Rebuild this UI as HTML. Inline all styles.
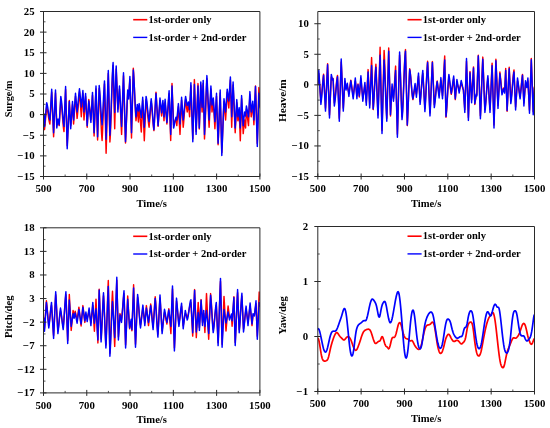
<!DOCTYPE html>
<html><head><meta charset="utf-8"><title>Motion responses</title>
<style>
html,body{margin:0;padding:0;background:#fff;}
body{width:550px;height:428px;overflow:hidden;}
svg{display:block}
text{font-family:"Liberation Serif",serif;font-weight:bold;fill:#000;}
.t{font-size:10.8px}
.l{font-size:10.6px}
.g{font-size:10.5px}
</style></head><body>
<svg width="550" height="428" viewBox="0 0 550 428">
<rect width="550" height="428" fill="#fff"/>
<clipPath id="c1"><rect x="43.5" y="11.5" width="216.39999999999998" height="165.0"/></clipPath>
<g clip-path="url(#c1)" fill="none" stroke-linejoin="round" stroke-linecap="round">
<path d="M43.90,114.00 L44.20,121.80 L44.50,129.60 L44.77,127.09 L45.05,124.32 L45.33,121.36 L45.60,118.30 L45.88,115.24 L46.15,112.28 L46.43,109.51 L46.70,107.00 L46.97,107.79 L47.23,108.88 L47.50,110.26 L47.77,111.87 L48.03,113.64 L48.30,115.50 L48.57,117.36 L48.83,119.13 L49.10,120.74 L49.37,122.12 L49.63,123.21 L49.90,124.00 L50.16,119.46 L50.41,114.91 L50.67,110.37 L50.93,105.83 L51.19,101.29 L51.44,96.74 L51.70,92.20 L51.97,98.40 L52.24,104.77 L52.51,111.24 L52.79,117.76 L53.06,124.23 L53.33,130.60 L53.60,136.80 L53.87,130.71 L54.14,124.46 L54.41,118.10 L54.69,111.70 L54.96,105.34 L55.23,99.09 L55.50,93.00 L55.76,99.40 L56.02,105.80 L56.28,112.20 L56.54,118.60 L56.80,125.00 L57.10,124.15 L57.40,123.31 L57.70,122.46 L58.00,121.61 L58.30,122.61 L58.60,123.60 L58.90,124.60 L59.20,125.60 L59.47,121.23 L59.73,116.87 L60.00,112.50 L60.27,108.13 L60.53,103.77 L60.80,99.40 L61.07,100.88 L61.33,102.96 L61.60,105.56 L61.87,108.60 L62.13,111.95 L62.40,115.45 L62.67,118.95 L62.93,122.30 L63.20,125.34 L63.47,127.94 L63.73,130.02 L64.00,131.50 L64.27,124.50 L64.53,117.50 L64.80,110.50 L65.07,103.50 L65.33,96.50 L65.60,89.50 L65.87,98.88 L66.13,108.27 L66.40,117.65 L66.67,127.03 L66.93,136.42 L67.20,145.80 L67.46,140.61 L67.72,135.04 L67.99,129.17 L68.25,123.15 L68.51,117.13 L68.78,111.26 L69.04,105.69 L69.30,100.50 L69.58,105.56 L69.86,110.62 L70.14,115.68 L70.42,120.74 L70.70,125.80 L70.96,122.76 L71.21,119.71 L71.47,116.67 L71.73,113.63 L71.99,110.59 L72.24,107.54 L72.50,104.50 L72.78,109.38 L73.05,114.25 L73.32,119.12 L73.60,124.00 L73.87,120.13 L74.14,116.17 L74.41,112.13 L74.69,108.07 L74.96,104.03 L75.23,100.07 L75.50,96.20 L75.77,99.90 L76.03,103.60 L76.30,107.30 L76.57,111.00 L76.83,114.70 L77.10,118.40 L77.37,115.95 L77.63,113.14 L77.90,110.03 L78.17,106.73 L78.43,103.37 L78.70,100.07 L78.97,96.96 L79.23,94.15 L79.50,91.70 L79.76,95.29 L80.01,98.87 L80.27,102.46 L80.53,106.04 L80.79,109.63 L81.04,113.21 L81.30,116.80 L81.57,112.92 L81.83,109.03 L82.10,105.15 L82.37,101.27 L82.63,97.38 L82.90,93.50 L83.18,100.12 L83.45,106.75 L83.72,113.38 L84.00,120.00 L84.27,116.08 L84.53,112.17 L84.80,108.25 L85.07,104.33 L85.33,100.42 L85.60,96.50 L85.87,101.62 L86.13,106.73 L86.40,111.85 L86.67,116.97 L86.93,122.08 L87.20,127.20 L87.47,122.58 L87.73,117.97 L88.00,113.35 L88.27,108.73 L88.53,104.12 L88.80,99.50 L89.06,101.78 L89.33,104.23 L89.59,106.80 L89.85,109.45 L90.11,112.10 L90.38,114.67 L90.64,117.12 L90.90,119.40 L91.17,115.40 L91.43,111.40 L91.70,107.40 L91.97,103.40 L92.23,99.40 L92.50,95.40 L92.77,102.17 L93.03,108.93 L93.30,115.70 L93.57,122.47 L93.83,129.23 L94.10,136.00 L94.37,129.46 L94.64,122.75 L94.91,115.93 L95.19,109.07 L95.46,102.25 L95.73,95.54 L96.00,89.00 L96.27,97.50 L96.53,106.00 L96.80,114.50 L97.07,123.00 L97.33,131.50 L97.60,140.00 L97.87,131.42 L98.13,122.83 L98.40,114.25 L98.67,105.67 L98.93,97.08 L99.20,88.50 L99.46,91.61 L99.73,95.61 L99.99,100.39 L100.25,105.78 L100.52,111.55 L100.78,117.45 L101.05,123.22 L101.31,128.61 L101.57,133.39 L101.84,137.39 L102.10,140.50 L102.37,135.31 L102.63,129.35 L102.90,122.77 L103.17,115.77 L103.43,108.63 L103.70,101.63 L103.97,95.05 L104.23,89.09 L104.50,83.90 L104.77,95.47 L105.03,107.03 L105.30,118.60 L105.57,130.17 L105.83,141.73 L106.10,153.30 L106.38,144.44 L106.65,134.67 L106.92,124.22 L107.20,113.40 L107.47,102.58 L107.75,92.13 L108.02,82.36 L108.30,73.50 L108.57,84.92 L108.83,96.33 L109.10,107.75 L109.37,119.17 L109.63,130.58 L109.90,142.00 L110.17,138.47 L110.43,133.52 L110.70,127.31 L110.97,120.07 L111.23,112.10 L111.50,103.75 L111.77,95.40 L112.03,87.43 L112.30,80.19 L112.57,73.98 L112.83,69.03 L113.10,65.50 L113.37,76.05 L113.63,86.60 L113.90,97.15 L114.17,107.70 L114.43,118.25 L114.70,128.80 L114.95,118.83 L115.20,108.87 L115.45,98.90 L115.70,88.93 L115.95,78.97 L116.20,69.00 L116.48,75.67 L116.77,82.33 L117.05,89.00 L117.33,95.67 L117.62,102.33 L117.90,109.00 L118.17,105.67 L118.43,102.33 L118.70,99.00 L118.97,95.67 L119.23,92.33 L119.50,89.00 L119.76,94.20 L120.03,99.79 L120.29,105.66 L120.55,111.70 L120.81,117.74 L121.07,123.61 L121.34,129.20 L121.60,134.40 L121.87,126.23 L122.14,117.86 L122.41,109.34 L122.69,100.76 L122.96,92.24 L123.23,83.87 L123.50,75.70 L123.75,83.64 L124.00,91.97 L124.25,100.58 L124.50,109.35 L124.75,118.12 L125.00,126.73 L125.25,135.06 L125.50,143.00 L125.78,137.45 L126.05,131.33 L126.33,124.78 L126.60,118.00 L126.88,111.22 L127.15,104.67 L127.42,98.55 L127.70,93.00 L128.03,94.00 L128.37,95.00 L128.70,96.00 L129.00,91.85 L129.30,87.70 L129.60,83.55 L129.90,79.40 L130.17,89.17 L130.43,98.93 L130.70,108.70 L130.97,118.47 L131.23,128.23 L131.50,138.00 L131.76,128.03 L132.01,118.06 L132.27,108.09 L132.53,98.11 L132.79,88.14 L133.04,78.17 L133.30,68.20 L133.57,72.03 L133.84,76.74 L134.11,82.20 L134.38,88.21 L134.65,94.50 L134.92,100.79 L135.19,106.80 L135.46,112.26 L135.73,116.97 L136.00,120.80 L136.26,118.11 L136.52,115.43 L136.78,112.74 L137.04,110.06 L137.30,107.37 L137.58,111.03 L137.85,114.69 L138.12,118.34 L138.40,122.00 L138.67,116.87 L138.93,111.73 L139.20,106.60 L139.46,109.51 L139.72,112.63 L139.99,115.92 L140.25,119.30 L140.51,122.68 L140.78,125.97 L141.04,129.09 L141.30,132.00 L141.58,125.64 L141.86,119.28 L142.14,112.92 L142.42,106.56 L142.70,100.20 L142.97,106.97 L143.23,113.73 L143.50,120.50 L143.77,127.27 L144.03,134.03 L144.30,140.80 L144.56,134.89 L144.81,128.97 L145.07,123.06 L145.33,117.14 L145.59,111.23 L145.84,105.31 L146.10,99.40 L146.35,100.83 L146.60,102.70 L146.85,104.97 L147.10,107.55 L147.35,110.37 L147.60,113.30 L147.85,116.23 L148.10,119.05 L148.35,121.63 L148.60,123.90 L148.85,125.77 L149.10,127.20 L149.36,124.29 L149.62,121.17 L149.89,117.88 L150.15,114.50 L150.41,111.12 L150.67,107.83 L150.94,104.71 L151.20,101.80 L151.47,103.90 L151.74,106.48 L152.01,109.47 L152.28,112.75 L152.55,116.20 L152.82,119.65 L153.09,122.93 L153.36,125.92 L153.63,128.50 L153.90,130.60 L154.16,126.20 L154.43,121.48 L154.69,116.51 L154.95,111.40 L155.21,106.29 L155.47,101.32 L155.74,96.60 L156.00,92.20 L156.26,96.10 L156.53,100.28 L156.79,104.68 L157.05,109.20 L157.31,113.72 L157.57,118.12 L157.84,122.30 L158.10,126.20 L158.37,122.69 L158.64,119.10 L158.91,115.44 L159.19,111.76 L159.46,108.10 L159.73,104.51 L160.00,101.00 L160.27,103.50 L160.53,106.00 L160.80,108.50 L161.07,111.00 L161.33,113.50 L161.60,116.00 L161.86,113.48 L162.12,110.96 L162.38,108.44 L162.64,105.92 L162.90,103.40 L163.18,107.75 L163.45,112.10 L163.72,116.45 L164.00,120.80 L164.28,116.17 L164.55,111.55 L164.82,106.92 L165.10,102.30 L165.36,105.40 L165.61,108.50 L165.87,111.60 L166.13,114.70 L166.39,117.80 L166.64,120.90 L166.90,124.00 L167.18,120.65 L167.45,116.95 L167.72,113.00 L168.00,108.90 L168.28,104.80 L168.55,100.85 L168.82,97.15 L169.10,93.80 L169.37,101.58 L169.63,109.37 L169.90,117.15 L170.17,124.93 L170.43,132.72 L170.70,140.50 L170.96,129.10 L171.22,117.70 L171.48,106.30 L171.74,94.90 L172.00,83.50 L172.27,90.42 L172.53,97.33 L172.80,104.25 L173.07,111.17 L173.33,118.08 L173.60,125.00 L173.87,124.40 L174.13,123.71 L174.40,122.95 L174.67,122.14 L174.93,121.32 L175.20,120.51 L175.47,119.75 L175.73,119.06 L176.00,118.46 L176.27,120.84 L176.53,123.22 L176.80,125.60 L177.07,122.43 L177.33,119.27 L177.60,116.10 L177.87,112.93 L178.13,109.77 L178.40,106.60 L178.67,111.23 L178.93,115.87 L179.20,120.50 L179.47,125.13 L179.73,129.77 L180.00,134.40 L180.27,128.70 L180.53,123.00 L180.80,117.30 L181.07,111.60 L181.33,105.90 L181.60,100.20 L181.87,104.70 L182.13,109.20 L182.40,113.70 L182.67,118.20 L182.93,122.70 L183.20,127.20 L183.47,124.65 L183.73,121.72 L184.00,118.49 L184.27,115.05 L184.53,111.55 L184.80,108.11 L185.07,104.88 L185.33,101.95 L185.60,99.40 L185.87,101.50 L186.13,103.60 L186.40,105.70 L186.67,107.80 L186.93,109.90 L187.20,112.00 L187.46,110.32 L187.72,108.65 L187.98,106.97 L188.24,105.30 L188.50,103.62 L188.78,106.92 L189.05,110.21 L189.32,113.50 L189.60,116.80 L189.86,110.60 L190.12,104.40 L190.38,98.20 L190.64,92.00 L190.90,85.80 L191.17,93.17 L191.44,100.74 L191.71,108.43 L191.99,116.17 L192.26,123.86 L192.53,131.43 L192.80,138.80 L193.07,128.93 L193.33,119.07 L193.60,109.20 L193.87,99.33 L194.13,89.47 L194.40,79.60 L194.68,88.23 L194.97,96.87 L195.25,105.50 L195.53,114.13 L195.82,122.77 L196.10,131.40 L196.37,124.75 L196.64,117.93 L196.91,110.99 L197.19,104.01 L197.46,97.07 L197.73,90.25 L198.00,83.60 L198.26,92.66 L198.52,101.72 L198.78,110.78 L199.04,119.84 L199.30,128.90 L199.55,121.58 L199.80,114.27 L200.05,106.95 L200.30,99.63 L200.55,92.32 L200.80,85.00 L201.06,90.40 L201.32,95.80 L201.58,101.20 L201.84,106.60 L202.10,112.00 L202.38,104.85 L202.65,97.70 L202.92,90.55 L203.20,83.40 L203.46,94.50 L203.72,105.60 L203.98,116.70 L204.24,127.80 L204.50,138.90 L204.77,133.37 L205.03,127.02 L205.30,120.01 L205.57,112.55 L205.83,104.95 L206.10,97.49 L206.37,90.48 L206.63,84.13 L206.90,78.60 L207.18,84.00 L207.45,89.94 L207.72,96.31 L208.00,102.90 L208.28,109.49 L208.55,115.86 L208.82,121.80 L209.10,127.20 L209.36,121.74 L209.61,116.29 L209.87,110.83 L210.13,105.37 L210.39,99.91 L210.64,94.46 L210.90,89.00 L211.18,94.75 L211.45,100.50 L211.72,106.25 L212.00,112.00 L212.26,109.80 L212.52,107.60 L212.78,105.40 L213.04,103.20 L213.30,101.00 L213.57,105.63 L213.83,110.27 L214.10,114.90 L214.37,119.53 L214.63,124.17 L214.90,128.80 L215.17,123.37 L215.43,117.93 L215.70,112.50 L215.97,107.07 L216.23,101.63 L216.50,96.20 L216.77,104.30 L217.03,112.40 L217.30,120.50 L217.57,128.60 L217.83,136.70 L218.10,144.80 L218.36,138.87 L218.62,132.49 L218.89,125.79 L219.15,118.90 L219.41,112.01 L219.67,105.31 L219.94,98.93 L220.20,93.00 L220.47,102.92 L220.73,112.83 L221.00,122.75 L221.27,132.67 L221.53,142.58 L221.80,152.50 L222.08,146.87 L222.35,140.67 L222.62,134.03 L222.90,127.15 L223.18,120.27 L223.45,113.63 L223.72,107.43 L224.00,101.80 L224.27,104.83 L224.53,107.87 L224.80,110.90 L225.07,113.93 L225.33,116.97 L225.60,120.00 L225.87,115.37 L226.13,110.73 L226.40,106.10 L226.67,101.47 L226.93,96.83 L227.20,92.20 L227.47,94.83 L227.73,97.47 L228.00,100.10 L228.27,102.73 L228.53,105.37 L228.80,108.00 L229.07,103.32 L229.33,98.63 L229.60,93.95 L229.87,89.27 L230.13,84.58 L230.40,79.90 L230.66,89.36 L230.92,98.82 L231.18,108.28 L231.44,117.74 L231.70,127.20 L231.98,118.76 L232.26,110.32 L232.54,101.88 L232.82,93.44 L233.10,85.00 L233.36,90.48 L233.62,96.36 L233.89,102.54 L234.15,108.90 L234.41,115.26 L234.67,121.44 L234.94,127.32 L235.20,132.80 L235.47,127.77 L235.73,122.73 L236.00,117.70 L236.27,112.67 L236.53,107.63 L236.80,102.60 L237.08,107.15 L237.35,111.70 L237.62,116.25 L237.90,120.80 L238.16,118.76 L238.42,116.72 L238.68,114.68 L238.94,112.64 L239.20,110.60 L239.47,118.15 L239.75,125.70 L240.03,133.25 L240.30,140.80 L240.56,132.36 L240.82,123.92 L241.08,115.48 L241.34,107.04 L241.60,98.60 L241.87,104.43 L242.13,110.27 L242.40,116.10 L242.67,121.93 L242.93,127.77 L243.20,133.60 L243.48,130.88 L243.76,128.16 L244.04,125.44 L244.32,122.72 L244.60,120.00 L244.85,122.00 L245.10,124.00 L245.35,126.00 L245.60,128.00 L245.87,121.67 L246.13,115.33 L246.40,109.00 L246.66,110.90 L246.93,112.94 L247.19,115.09 L247.45,117.30 L247.71,119.51 L247.97,121.66 L248.24,123.70 L248.50,125.60 L248.78,119.40 L249.06,113.20 L249.34,107.00 L249.62,100.80 L249.90,94.60 L250.16,99.04 L250.42,103.48 L250.68,107.92 L250.94,112.36 L251.20,116.80 L251.47,114.70 L251.73,112.60 L252.00,110.50 L252.27,108.40 L252.53,106.30 L252.80,104.20 L253.08,109.35 L253.35,114.50 L253.62,119.65 L253.90,124.80 L254.17,118.33 L254.43,111.87 L254.70,105.40 L254.97,98.93 L255.23,92.47 L255.50,86.00 L255.76,94.20 L256.01,102.40 L256.27,110.60 L256.53,118.80 L256.79,127.00 L257.04,135.20 L257.30,143.40 L257.57,134.10 L257.83,124.80 L258.10,115.50 L258.37,106.20 L258.63,96.90 L258.90,87.60 L259.16,91.68 L259.42,95.76 L259.68,99.84 L259.94,103.92 L260.20,108.00" stroke="#ff0000" stroke-width="1.45"/>
<path d="M43.90,114.00 L44.20,120.20 L44.50,126.40 L44.77,123.78 L45.05,120.89 L45.33,117.80 L45.60,114.60 L45.88,111.40 L46.15,108.31 L46.43,105.42 L46.70,102.80 L46.97,103.59 L47.23,104.71 L47.50,106.10 L47.77,107.73 L48.03,109.52 L48.30,111.40 L48.57,113.28 L48.83,115.07 L49.10,116.70 L49.37,118.09 L49.63,119.21 L49.90,120.00 L50.16,115.60 L50.41,111.20 L50.67,106.80 L50.93,102.40 L51.19,98.00 L51.44,93.60 L51.70,89.20 L51.97,95.27 L52.24,101.49 L52.51,107.82 L52.79,114.18 L53.06,120.51 L53.33,126.73 L53.60,132.80 L53.87,126.85 L54.14,120.74 L54.41,114.53 L54.69,108.27 L54.96,102.06 L55.23,95.95 L55.50,90.00 L55.76,97.60 L56.02,105.20 L56.28,112.80 L56.54,120.40 L56.80,128.00 L57.10,125.75 L57.40,123.50 L57.70,121.25 L58.00,119.00 L58.30,120.45 L58.60,121.90 L58.90,123.35 L59.20,124.80 L59.47,120.07 L59.73,115.33 L60.00,110.60 L60.27,105.87 L60.53,101.13 L60.80,96.40 L61.07,97.79 L61.33,99.73 L61.60,102.16 L61.87,105.00 L62.13,108.13 L62.40,111.40 L62.67,114.67 L62.93,117.80 L63.20,120.64 L63.47,123.07 L63.73,125.01 L64.00,126.40 L64.27,119.75 L64.53,113.10 L64.80,106.45 L65.07,99.80 L65.33,93.15 L65.60,86.50 L65.87,96.88 L66.13,107.27 L66.40,117.65 L66.67,128.03 L66.93,138.42 L67.20,148.80 L67.46,143.38 L67.72,137.56 L67.99,131.44 L68.25,125.15 L68.51,118.86 L68.78,112.74 L69.04,106.92 L69.30,101.50 L69.58,106.96 L69.86,112.42 L70.14,117.88 L70.42,123.34 L70.70,128.80 L70.96,124.90 L71.21,121.00 L71.47,117.10 L71.73,113.20 L71.99,109.30 L72.24,105.40 L72.50,101.50 L72.78,106.12 L73.05,110.75 L73.32,115.38 L73.60,120.00 L73.87,116.27 L74.14,112.45 L74.41,108.56 L74.69,104.64 L74.96,100.75 L75.23,96.93 L75.50,93.20 L75.77,96.33 L76.03,99.47 L76.30,102.60 L76.57,105.73 L76.83,108.87 L77.10,112.00 L77.37,109.86 L77.63,107.41 L77.90,104.70 L78.17,101.82 L78.43,98.88 L78.70,96.00 L78.97,93.29 L79.23,90.84 L79.50,88.70 L79.76,91.31 L80.01,93.93 L80.27,96.54 L80.53,99.16 L80.79,101.77 L81.04,104.39 L81.30,107.00 L81.57,104.25 L81.83,101.50 L82.10,98.75 L82.37,96.00 L82.63,93.25 L82.90,90.50 L83.18,95.88 L83.45,101.25 L83.72,106.62 L84.00,112.00 L84.27,108.92 L84.53,105.83 L84.80,102.75 L85.07,99.67 L85.33,96.58 L85.60,93.50 L85.87,98.85 L86.13,104.20 L86.40,109.55 L86.67,114.90 L86.93,120.25 L87.20,125.60 L87.47,121.50 L87.73,117.40 L88.00,113.30 L88.27,109.20 L88.53,105.10 L88.80,101.00 L89.06,103.45 L89.33,106.08 L89.59,108.85 L89.85,111.70 L90.11,114.55 L90.38,117.32 L90.64,119.95 L90.90,122.40 L91.17,117.40 L91.43,112.40 L91.70,107.40 L91.97,102.40 L92.23,97.40 L92.50,92.40 L92.77,99.13 L93.03,105.87 L93.30,112.60 L93.57,119.33 L93.83,126.07 L94.10,132.80 L94.37,126.29 L94.64,119.61 L94.91,112.82 L95.19,105.98 L95.46,99.19 L95.73,92.51 L96.00,86.00 L96.27,94.47 L96.53,102.93 L96.80,111.40 L97.07,119.87 L97.33,128.33 L97.60,136.80 L97.87,128.25 L98.13,119.70 L98.40,111.15 L98.67,102.60 L98.93,94.05 L99.20,85.50 L99.46,87.85 L99.73,90.87 L99.99,94.49 L100.25,98.56 L100.52,102.92 L100.78,107.38 L101.05,111.74 L101.31,115.81 L101.57,119.43 L101.84,122.45 L102.10,124.80 L102.37,120.78 L102.63,116.15 L102.90,111.04 L103.17,105.62 L103.43,100.08 L103.70,94.66 L103.97,89.55 L104.23,84.92 L104.50,80.90 L104.77,90.62 L105.03,100.33 L105.30,110.05 L105.57,119.77 L105.83,129.48 L106.10,139.20 L106.38,131.57 L106.65,123.16 L106.92,114.17 L107.20,104.85 L107.47,95.53 L107.75,86.54 L108.02,78.13 L108.30,70.50 L108.57,81.28 L108.83,92.07 L109.10,102.85 L109.37,113.63 L109.63,124.42 L109.90,135.20 L110.17,131.84 L110.43,127.14 L110.70,121.24 L110.97,114.36 L111.23,106.78 L111.50,98.85 L111.77,90.92 L112.03,83.34 L112.30,76.46 L112.57,70.56 L112.83,65.86 L113.10,62.50 L113.37,70.83 L113.63,79.17 L113.90,87.50 L114.17,95.83 L114.43,104.17 L114.70,112.50 L114.95,104.75 L115.20,97.00 L115.45,89.25 L115.70,81.50 L115.95,73.75 L116.20,66.00 L116.48,73.67 L116.77,81.33 L117.05,89.00 L117.33,96.67 L117.62,104.33 L117.90,112.00 L118.17,107.67 L118.43,103.33 L118.70,99.00 L118.97,94.67 L119.23,90.33 L119.50,86.00 L119.76,90.63 L120.03,95.60 L120.29,100.83 L120.55,106.20 L120.81,111.57 L121.07,116.80 L121.34,121.77 L121.60,126.40 L121.87,118.93 L122.14,111.27 L122.41,103.47 L122.69,95.63 L122.96,87.83 L123.23,80.17 L123.50,72.70 L123.75,80.83 L124.00,89.35 L124.25,98.17 L124.50,107.15 L124.75,116.13 L125.00,124.95 L125.25,133.47 L125.50,141.60 L125.78,135.87 L126.05,129.55 L126.33,122.80 L126.60,115.80 L126.88,108.80 L127.15,102.05 L127.42,95.73 L127.70,90.00 L128.03,93.00 L128.37,96.00 L128.70,99.00 L129.00,93.35 L129.30,87.70 L129.60,82.05 L129.90,76.40 L130.17,85.80 L130.43,95.20 L130.70,104.60 L130.97,114.00 L131.23,123.40 L131.50,132.80 L131.76,123.83 L132.01,114.86 L132.27,105.89 L132.53,96.91 L132.79,87.94 L133.04,78.97 L133.30,70.00 L133.57,73.41 L133.84,77.60 L134.11,82.46 L134.38,87.80 L134.65,93.40 L134.92,99.00 L135.19,104.34 L135.46,109.20 L135.73,113.39 L136.00,116.80 L136.26,114.32 L136.52,111.84 L136.78,109.36 L137.04,106.88 L137.30,104.40 L137.58,106.05 L137.85,107.70 L138.12,109.35 L138.40,111.00 L138.67,108.53 L138.93,106.07 L139.20,103.60 L139.46,105.20 L139.72,106.93 L139.99,108.74 L140.25,110.60 L140.51,112.46 L140.78,114.27 L141.04,116.00 L141.30,117.60 L141.58,113.52 L141.86,109.44 L142.14,105.36 L142.42,101.28 L142.70,97.20 L142.97,102.20 L143.23,107.20 L143.50,112.20 L143.77,117.20 L144.03,122.20 L144.30,127.20 L144.56,122.80 L144.81,118.40 L145.07,114.00 L145.33,109.60 L145.59,105.20 L145.84,100.80 L146.10,96.40 L146.35,97.70 L146.60,99.39 L146.85,101.45 L147.10,103.79 L147.35,106.34 L147.60,109.00 L147.85,111.66 L148.10,114.21 L148.35,116.55 L148.60,118.61 L148.85,120.30 L149.10,121.60 L149.36,118.99 L149.62,116.18 L149.89,113.23 L150.15,110.20 L150.41,107.17 L150.67,104.22 L150.94,101.41 L151.20,98.80 L151.47,101.04 L151.74,103.80 L152.01,107.00 L152.28,110.52 L152.55,114.20 L152.82,117.88 L153.09,121.40 L153.36,124.60 L153.63,127.36 L153.90,129.60 L154.16,125.45 L154.43,121.00 L154.69,116.31 L154.95,111.50 L155.21,106.69 L155.47,102.00 L155.74,97.55 L156.00,93.40 L156.26,97.09 L156.53,101.05 L156.79,105.22 L157.05,109.50 L157.31,113.78 L157.57,117.95 L157.84,121.91 L158.10,125.60 L158.37,121.76 L158.64,117.82 L158.91,113.82 L159.19,109.78 L159.46,105.78 L159.73,101.84 L160.00,98.00 L160.27,100.47 L160.53,102.93 L160.80,105.40 L161.07,107.87 L161.33,110.33 L161.60,112.80 L161.86,110.32 L162.12,107.84 L162.38,105.36 L162.64,102.88 L162.90,100.40 L163.18,104.50 L163.45,108.60 L163.72,112.70 L164.00,116.80 L164.28,112.42 L164.55,108.05 L164.82,103.67 L165.10,99.30 L165.36,102.60 L165.61,105.90 L165.87,109.20 L166.13,112.50 L166.39,115.80 L166.64,119.10 L166.90,122.40 L167.18,118.89 L167.45,115.02 L167.72,110.89 L168.00,106.60 L168.28,102.31 L168.55,98.18 L168.82,94.31 L169.10,90.80 L169.37,98.07 L169.63,105.33 L169.90,112.60 L170.17,119.87 L170.43,127.13 L170.70,134.40 L170.96,124.72 L171.22,115.04 L171.48,105.36 L171.74,95.68 L172.00,86.00 L172.27,93.00 L172.53,100.00 L172.80,107.00 L173.07,114.00 L173.33,121.00 L173.60,128.00 L173.87,127.01 L174.13,125.87 L174.40,124.62 L174.67,123.28 L174.93,121.92 L175.20,120.58 L175.47,119.33 L175.73,118.19 L176.00,117.20 L176.27,118.13 L176.53,119.07 L176.80,120.00 L177.07,117.27 L177.33,114.53 L177.60,111.80 L177.87,109.07 L178.13,106.33 L178.40,103.60 L178.67,107.00 L178.93,110.40 L179.20,113.80 L179.47,117.20 L179.73,120.60 L180.00,124.00 L180.27,119.53 L180.53,115.07 L180.80,110.60 L181.07,106.13 L181.33,101.67 L181.60,97.20 L181.87,101.00 L182.13,104.80 L182.40,108.60 L182.67,112.40 L182.93,116.20 L183.20,120.00 L183.47,117.84 L183.73,115.35 L184.00,112.61 L184.27,109.69 L184.53,106.71 L184.80,103.79 L185.07,101.05 L185.33,98.56 L185.60,96.40 L185.87,97.93 L186.13,99.47 L186.40,101.00 L186.67,102.53 L186.93,104.07 L187.20,105.60 L187.46,104.88 L187.72,104.16 L187.98,103.44 L188.24,102.72 L188.50,102.00 L188.78,103.90 L189.05,105.80 L189.32,107.70 L189.60,109.60 L189.86,104.24 L190.12,98.88 L190.38,93.52 L190.64,88.16 L190.90,82.80 L191.17,91.01 L191.44,99.43 L191.71,107.99 L191.99,116.61 L192.26,125.17 L192.53,133.59 L192.80,141.80 L193.07,132.23 L193.33,122.67 L193.60,113.10 L193.87,103.53 L194.13,93.97 L194.40,84.40 L194.68,92.73 L194.97,101.07 L195.25,109.40 L195.53,117.73 L195.82,126.07 L196.10,134.40 L196.37,127.67 L196.64,120.76 L196.91,113.73 L197.19,106.67 L197.46,99.64 L197.73,92.73 L198.00,86.00 L198.26,94.40 L198.52,102.80 L198.78,111.20 L199.04,119.60 L199.30,128.00 L199.55,120.33 L199.80,112.67 L200.05,105.00 L200.30,97.33 L200.55,89.67 L200.80,82.00 L201.06,87.04 L201.32,92.08 L201.58,97.12 L201.84,102.16 L202.10,107.20 L202.38,100.50 L202.65,93.80 L202.92,87.10 L203.20,80.40 L203.46,91.20 L203.72,102.00 L203.98,112.80 L204.24,123.60 L204.50,134.40 L204.77,129.01 L205.03,122.82 L205.30,115.98 L205.57,108.71 L205.83,101.29 L206.10,94.02 L206.37,87.18 L206.63,80.99 L206.90,75.60 L207.18,80.53 L207.45,85.96 L207.72,91.78 L208.00,97.80 L208.28,103.82 L208.55,109.64 L208.82,115.07 L209.10,120.00 L209.36,115.14 L209.61,110.29 L209.87,105.43 L210.13,100.57 L210.39,95.71 L210.64,90.86 L210.90,86.00 L211.18,90.75 L211.45,95.50 L211.72,100.25 L212.00,105.00 L212.26,103.60 L212.52,102.20 L212.78,100.80 L213.04,99.40 L213.30,98.00 L213.57,101.93 L213.83,105.87 L214.10,109.80 L214.37,113.73 L214.63,117.67 L214.90,121.60 L215.17,116.87 L215.43,112.13 L215.70,107.40 L215.97,102.67 L216.23,97.93 L216.50,93.20 L216.77,101.53 L217.03,109.87 L217.30,118.20 L217.57,126.53 L217.83,134.87 L218.10,143.20 L218.36,137.11 L218.62,130.56 L218.89,123.67 L219.15,116.60 L219.41,109.53 L219.67,102.64 L219.94,96.09 L220.20,90.00 L220.47,100.92 L220.73,111.83 L221.00,122.75 L221.27,133.67 L221.53,144.58 L221.80,155.50 L222.08,149.20 L222.35,142.26 L222.62,134.84 L222.90,127.15 L223.18,119.46 L223.45,112.04 L223.72,105.10 L224.00,98.80 L224.27,101.00 L224.53,103.20 L224.80,105.40 L225.07,107.60 L225.33,109.80 L225.60,112.00 L225.87,108.20 L226.13,104.40 L226.40,100.60 L226.67,96.80 L226.93,93.00 L227.20,89.20 L227.47,91.17 L227.73,93.13 L228.00,95.10 L228.27,97.07 L228.53,99.03 L228.80,101.00 L229.07,96.98 L229.33,92.97 L229.60,88.95 L229.87,84.93 L230.13,80.92 L230.40,76.90 L230.66,84.88 L230.92,92.86 L231.18,100.84 L231.44,108.82 L231.70,116.80 L231.98,109.84 L232.26,102.88 L232.54,95.92 L232.82,88.96 L233.10,82.00 L233.36,87.27 L233.62,92.93 L233.89,98.88 L234.15,105.00 L234.41,111.12 L234.67,117.07 L234.94,122.73 L235.20,128.00 L235.47,123.27 L235.73,118.53 L236.00,113.80 L236.27,109.07 L236.53,104.33 L236.80,99.60 L237.08,103.90 L237.35,108.20 L237.62,112.50 L237.90,116.80 L238.16,114.96 L238.42,113.12 L238.68,111.28 L238.94,109.44 L239.20,107.60 L239.47,112.70 L239.75,117.80 L240.03,122.90 L240.30,128.00 L240.56,121.52 L240.82,115.04 L241.08,108.56 L241.34,102.08 L241.60,95.60 L241.87,100.60 L242.13,105.60 L242.40,110.60 L242.67,115.60 L242.93,120.60 L243.20,125.60 L243.48,122.88 L243.76,120.16 L244.04,117.44 L244.32,114.72 L244.60,112.00 L244.85,113.00 L245.10,114.00 L245.35,115.00 L245.60,116.00 L245.87,112.67 L246.13,109.33 L246.40,106.00 L246.66,107.24 L246.93,108.57 L247.19,109.96 L247.45,111.40 L247.71,112.84 L247.97,114.23 L248.24,115.56 L248.50,116.80 L248.78,111.76 L249.06,106.72 L249.34,101.68 L249.62,96.64 L249.90,91.60 L250.16,95.68 L250.42,99.76 L250.68,103.84 L250.94,107.92 L251.20,112.00 L251.47,110.20 L251.73,108.40 L252.00,106.60 L252.27,104.80 L252.53,103.00 L252.80,101.20 L253.08,105.90 L253.35,110.60 L253.62,115.30 L253.90,120.00 L254.17,114.42 L254.43,108.83 L254.70,103.25 L254.97,97.67 L255.23,92.08 L255.50,86.50 L255.76,95.06 L256.01,103.61 L256.27,112.17 L256.53,120.73 L256.79,129.29 L257.04,137.84 L257.30,146.40 L257.57,137.53 L257.83,128.67 L258.10,119.80 L258.37,110.93 L258.63,102.07 L258.90,93.20 L259.16,95.96 L259.42,98.72 L259.68,101.48 L259.94,104.24 L260.20,107.00" stroke="#0000ff" stroke-width="1.45"/>
</g>
<path d="M43.5,176.5 L43.5,11.5 L259.9,11.5 L259.9,176.5 Z" fill="none" stroke="#2a2a2a" stroke-width="1"/>
<path d="M43.50,173.5 L43.50,179.5" stroke="#2a2a2a" stroke-width="1"/>
<text x="43.50" y="192.40" text-anchor="middle" class="t">500</text>
<path d="M65.14,174.5 L65.14,176.5" stroke="#2a2a2a" stroke-width="0.8"/>
<path d="M86.78,173.5 L86.78,179.5" stroke="#2a2a2a" stroke-width="1"/>
<text x="86.78" y="192.40" text-anchor="middle" class="t">700</text>
<path d="M108.42,174.5 L108.42,176.5" stroke="#2a2a2a" stroke-width="0.8"/>
<path d="M130.06,173.5 L130.06,179.5" stroke="#2a2a2a" stroke-width="1"/>
<text x="130.06" y="192.40" text-anchor="middle" class="t">900</text>
<path d="M151.70,174.5 L151.70,176.5" stroke="#2a2a2a" stroke-width="0.8"/>
<path d="M173.34,173.5 L173.34,179.5" stroke="#2a2a2a" stroke-width="1"/>
<text x="173.34" y="192.40" text-anchor="middle" class="t">1100</text>
<path d="M194.98,174.5 L194.98,176.5" stroke="#2a2a2a" stroke-width="0.8"/>
<path d="M216.62,173.5 L216.62,179.5" stroke="#2a2a2a" stroke-width="1"/>
<text x="216.62" y="192.40" text-anchor="middle" class="t">1300</text>
<path d="M238.26,174.5 L238.26,176.5" stroke="#2a2a2a" stroke-width="0.8"/>
<path d="M259.90,173.5 L259.90,179.5" stroke="#2a2a2a" stroke-width="1"/>
<text x="259.90" y="192.40" text-anchor="middle" class="t">1500</text>
<path d="M40.0,11.50 L46.5,11.50" stroke="#2a2a2a" stroke-width="1"/>
<text x="34.60" y="14.90" text-anchor="end" class="t">25</text>
<path d="M40.0,32.12 L46.5,32.12" stroke="#2a2a2a" stroke-width="1"/>
<text x="34.60" y="35.52" text-anchor="end" class="t">20</text>
<path d="M40.0,52.75 L46.5,52.75" stroke="#2a2a2a" stroke-width="1"/>
<text x="34.60" y="56.15" text-anchor="end" class="t">15</text>
<path d="M40.0,73.38 L46.5,73.38" stroke="#2a2a2a" stroke-width="1"/>
<text x="34.60" y="76.78" text-anchor="end" class="t">10</text>
<path d="M40.0,94.00 L46.5,94.00" stroke="#2a2a2a" stroke-width="1"/>
<text x="34.60" y="97.40" text-anchor="end" class="t">5</text>
<path d="M40.0,114.62 L46.5,114.62" stroke="#2a2a2a" stroke-width="1"/>
<text x="34.60" y="118.03" text-anchor="end" class="t">0</text>
<path d="M40.0,135.25 L46.5,135.25" stroke="#2a2a2a" stroke-width="1"/>
<text x="34.60" y="138.65" text-anchor="end" class="t">−<tspan dx="0.6">5</tspan></text>
<path d="M40.0,155.88 L46.5,155.88" stroke="#2a2a2a" stroke-width="1"/>
<text x="34.60" y="159.28" text-anchor="end" class="t">−<tspan dx="0.6">10</tspan></text>
<path d="M40.0,176.50 L46.5,176.50" stroke="#2a2a2a" stroke-width="1"/>
<text x="34.60" y="179.90" text-anchor="end" class="t">−<tspan dx="0.6">15</tspan></text>
<path d="M43.5,21.81 L45.5,21.81" stroke="#2a2a2a" stroke-width="0.8"/>
<path d="M43.5,42.44 L45.5,42.44" stroke="#2a2a2a" stroke-width="0.8"/>
<path d="M43.5,63.06 L45.5,63.06" stroke="#2a2a2a" stroke-width="0.8"/>
<path d="M43.5,83.69 L45.5,83.69" stroke="#2a2a2a" stroke-width="0.8"/>
<path d="M43.5,104.31 L45.5,104.31" stroke="#2a2a2a" stroke-width="0.8"/>
<path d="M43.5,124.94 L45.5,124.94" stroke="#2a2a2a" stroke-width="0.8"/>
<path d="M43.5,145.56 L45.5,145.56" stroke="#2a2a2a" stroke-width="0.8"/>
<path d="M43.5,166.19 L45.5,166.19" stroke="#2a2a2a" stroke-width="0.8"/>
<text x="151.70" y="206.50" text-anchor="middle" class="l">Time/s</text>
<text transform="translate(11.5,98.80) rotate(-90)" text-anchor="middle" class="l" style="font-size:10.2px">Surge/m</text>
<path d="M133.20,19.70 L147.30,19.70" stroke="#ff0000" stroke-width="1.6"/>
<text x="148.50" y="22.90" class="g">1st-order only</text>
<path d="M133.20,37.40 L147.30,37.40" stroke="#0000ff" stroke-width="1.4"/>
<text x="148.50" y="40.70" class="g">1st-order + 2nd-order</text>
<clipPath id="c2"><rect x="317.8" y="11.5" width="216.7" height="165.0"/></clipPath>
<g clip-path="url(#c2)" fill="none" stroke-linejoin="round" stroke-linecap="round">
<path d="M317.90,84.40 L318.20,80.73 L318.50,77.07 L318.80,73.40 L319.06,76.61 L319.32,80.05 L319.59,83.68 L319.85,87.40 L320.11,91.12 L320.38,94.75 L320.64,98.19 L320.90,101.40 L321.17,99.42 L321.44,96.98 L321.71,94.16 L321.98,91.05 L322.25,87.80 L322.52,84.55 L322.79,81.44 L323.06,78.62 L323.33,76.18 L323.60,74.20 L323.87,78.92 L324.14,83.75 L324.41,88.67 L324.69,93.63 L324.96,98.55 L325.23,103.38 L325.50,108.10 L325.76,103.02 L326.02,97.58 L326.29,91.84 L326.55,85.95 L326.81,80.06 L327.08,74.32 L327.34,68.88 L327.60,63.80 L327.87,70.92 L328.14,78.23 L328.41,85.66 L328.69,93.14 L328.96,100.57 L329.23,107.88 L329.50,115.00 L329.76,109.56 L330.01,104.12 L330.27,98.68 L330.53,93.24 L330.79,87.80 L331.04,82.36 L331.30,76.92 L331.56,77.45 L331.82,77.97 L332.08,78.50 L332.34,79.02 L332.60,79.55 L332.85,79.03 L333.10,78.50 L333.40,84.62 L333.70,90.75 L334.00,96.88 L334.30,103.00 L334.57,101.73 L334.83,99.95 L335.10,97.72 L335.37,95.12 L335.63,92.25 L335.90,89.25 L336.17,86.25 L336.43,83.38 L336.70,80.78 L336.97,78.55 L337.23,76.77 L337.50,75.50 L337.76,81.60 L338.01,87.70 L338.27,93.80 L338.53,99.90 L338.79,106.00 L339.04,112.10 L339.30,118.20 L339.57,110.37 L339.84,102.33 L340.11,94.16 L340.39,85.94 L340.66,77.77 L340.93,69.73 L341.20,61.90 L341.46,67.19 L341.73,72.88 L341.99,78.86 L342.25,85.00 L342.51,91.14 L342.77,97.12 L343.04,102.81 L343.30,108.10 L343.57,103.65 L343.83,99.20 L344.10,94.75 L344.37,90.30 L344.63,85.85 L344.90,81.40 L345.17,82.80 L345.45,84.20 L345.73,85.60 L346.00,87.00 L346.26,86.84 L346.52,86.68 L346.78,86.52 L347.04,86.36 L347.30,86.20 L347.57,87.40 L347.83,88.60 L348.10,89.80 L348.37,91.00 L348.63,92.20 L348.90,93.40 L349.17,91.56 L349.44,89.68 L349.71,87.76 L349.99,85.84 L350.26,83.92 L350.53,82.04 L350.80,80.20 L351.07,81.63 L351.33,83.27 L351.60,85.09 L351.87,87.02 L352.13,88.98 L352.40,90.91 L352.67,92.73 L352.93,94.37 L353.20,95.80 L353.46,94.09 L353.73,92.26 L353.99,90.33 L354.25,88.35 L354.51,86.37 L354.77,84.44 L355.04,82.61 L355.30,80.90 L355.57,83.38 L355.83,85.87 L356.10,88.35 L356.37,90.83 L356.63,93.32 L356.90,95.80 L357.17,92.85 L357.45,89.90 L357.73,86.95 L358.00,84.00 L358.26,86.60 L358.52,89.20 L358.78,91.80 L359.04,94.40 L359.30,97.00 L359.57,93.95 L359.83,90.90 L360.10,87.85 L360.37,84.80 L360.63,81.75 L360.90,78.70 L361.17,81.41 L361.44,84.20 L361.71,87.03 L361.99,89.87 L362.26,92.70 L362.53,95.49 L362.80,98.20 L363.06,96.73 L363.32,95.16 L363.59,93.50 L363.85,91.80 L364.11,90.10 L364.38,88.44 L364.64,86.87 L364.90,85.40 L365.18,88.76 L365.46,92.12 L365.74,95.48 L366.02,98.84 L366.30,102.20 L366.56,97.54 L366.81,92.89 L367.07,88.23 L367.33,83.57 L367.59,78.91 L367.84,74.26 L368.10,69.60 L368.37,75.48 L368.63,81.37 L368.90,87.25 L369.17,93.13 L369.43,99.02 L369.70,104.90 L369.97,98.32 L370.24,91.57 L370.51,84.70 L370.79,77.80 L371.06,70.93 L371.33,64.18 L371.60,57.60 L371.87,66.27 L372.13,74.93 L372.40,83.60 L372.67,92.27 L372.93,100.93 L373.20,109.60 L373.47,106.30 L373.74,102.24 L374.01,97.54 L374.28,92.37 L374.55,86.95 L374.82,81.53 L375.09,76.36 L375.36,71.66 L375.63,67.60 L375.90,64.30 L376.16,70.11 L376.42,76.34 L376.69,82.91 L376.95,89.65 L377.21,96.39 L377.48,102.96 L377.74,109.19 L378.00,115.00 L378.26,107.23 L378.52,98.89 L378.79,90.11 L379.05,81.10 L379.31,72.09 L379.58,63.31 L379.84,54.97 L380.10,47.20 L380.37,58.79 L380.64,70.68 L380.91,82.77 L381.19,94.93 L381.46,107.02 L381.73,118.91 L382.00,130.50 L382.26,121.32 L382.52,111.47 L382.79,101.10 L383.05,90.45 L383.31,79.80 L383.58,69.43 L383.84,59.58 L384.10,50.40 L384.37,55.34 L384.64,61.41 L384.91,68.45 L385.18,76.19 L385.45,84.30 L385.72,92.41 L385.99,100.15 L386.26,107.19 L386.53,113.26 L386.80,118.20 L387.07,108.43 L387.34,98.42 L387.61,88.23 L387.89,77.97 L388.16,67.78 L388.43,57.77 L388.70,48.00 L388.96,57.71 L389.21,67.43 L389.47,77.14 L389.73,86.86 L389.99,96.57 L390.24,106.29 L390.50,116.00 L390.77,111.17 L391.03,106.33 L391.30,101.50 L391.57,96.67 L391.83,91.83 L392.10,87.00 L392.38,89.24 L392.66,91.48 L392.94,93.72 L393.22,95.96 L393.50,98.20 L393.76,94.52 L394.02,90.57 L394.29,86.42 L394.55,82.15 L394.81,77.88 L395.08,73.73 L395.34,69.78 L395.60,66.10 L395.86,75.83 L396.11,85.56 L396.37,95.29 L396.63,105.01 L396.89,114.74 L397.14,124.47 L397.40,134.20 L397.67,125.40 L397.95,115.71 L398.23,105.34 L398.50,94.60 L398.77,83.86 L399.05,73.49 L399.33,63.80 L399.60,55.00 L399.87,60.65 L400.13,67.13 L400.40,74.30 L400.67,81.92 L400.93,89.68 L401.20,97.30 L401.47,104.47 L401.73,110.95 L402.00,116.60 L402.25,114.50 L402.50,111.28 L402.75,107.04 L403.00,101.90 L403.25,96.05 L403.50,89.70 L403.75,83.10 L404.00,76.50 L404.25,70.15 L404.50,64.30 L404.75,59.16 L405.00,54.92 L405.25,51.70 L405.50,49.60 L405.76,60.46 L406.01,71.31 L406.27,82.17 L406.53,93.03 L406.79,103.89 L407.04,114.74 L407.30,125.60 L407.57,120.39 L407.83,114.41 L408.10,107.80 L408.37,100.78 L408.63,93.62 L408.90,86.60 L409.17,79.99 L409.43,74.01 L409.70,68.80 L409.97,70.22 L410.23,72.21 L410.50,74.71 L410.77,77.63 L411.03,80.84 L411.30,84.20 L411.57,87.56 L411.83,90.77 L412.10,93.69 L412.37,96.19 L412.63,98.18 L412.90,99.60 L413.17,98.14 L413.45,96.54 L413.73,94.83 L414.00,93.05 L414.27,91.27 L414.55,89.56 L414.83,87.96 L415.10,86.50 L415.36,88.04 L415.62,89.58 L415.88,91.12 L416.14,92.66 L416.40,94.20 L416.66,92.13 L416.92,89.90 L417.19,87.56 L417.45,85.15 L417.71,82.74 L417.98,80.40 L418.24,78.17 L418.50,76.10 L418.77,80.32 L419.03,84.53 L419.30,88.75 L419.57,92.97 L419.83,97.18 L420.10,101.40 L420.37,99.36 L420.64,96.85 L420.91,93.95 L421.18,90.75 L421.45,87.40 L421.72,84.05 L421.99,80.85 L422.26,77.95 L422.53,75.44 L422.80,73.40 L423.06,77.43 L423.32,81.76 L423.59,86.32 L423.85,91.00 L424.11,95.68 L424.38,100.24 L424.64,104.57 L424.90,108.60 L425.17,105.16 L425.44,100.92 L425.71,96.01 L425.98,90.61 L426.25,84.95 L426.52,79.29 L426.79,73.89 L427.06,68.98 L427.33,64.74 L427.60,61.30 L427.87,66.03 L428.13,71.46 L428.40,77.47 L428.67,83.85 L428.93,90.35 L429.20,96.73 L429.47,102.74 L429.73,108.17 L430.00,112.90 L430.27,108.20 L430.53,102.80 L430.80,96.83 L431.07,90.48 L431.33,84.02 L431.60,77.67 L431.87,71.70 L432.13,66.30 L432.40,61.60 L432.67,67.58 L432.94,73.72 L433.21,79.96 L433.49,86.24 L433.76,92.48 L434.03,98.62 L434.30,104.60 L434.56,103.19 L434.83,101.37 L435.09,99.20 L435.35,96.76 L435.62,94.14 L435.88,91.46 L436.15,88.84 L436.41,86.40 L436.67,84.23 L436.94,82.41 L437.20,81.00 L437.47,82.95 L437.74,84.95 L438.01,86.98 L438.29,89.02 L438.56,91.05 L438.83,93.05 L439.10,95.00 L439.36,92.94 L439.61,90.89 L439.87,88.83 L440.13,86.77 L440.39,84.71 L440.64,82.66 L440.90,80.60 L441.17,83.13 L441.43,85.67 L441.70,88.20 L441.97,90.73 L442.23,93.27 L442.50,95.80 L442.77,91.38 L443.05,86.51 L443.32,81.30 L443.60,75.90 L443.88,70.50 L444.15,65.29 L444.43,60.42 L444.70,56.00 L444.96,68.24 L445.22,80.48 L445.48,92.72 L445.74,104.96 L446.00,117.20 L446.26,114.82 L446.53,111.76 L446.79,108.10 L447.05,103.98 L447.32,99.56 L447.58,95.04 L447.85,90.62 L448.11,86.50 L448.37,82.84 L448.64,79.78 L448.90,77.40 L449.17,78.95 L449.43,80.73 L449.70,82.70 L449.97,84.78 L450.23,86.92 L450.50,89.00 L450.77,90.97 L451.03,92.75 L451.30,94.30 L451.57,92.90 L451.83,91.29 L452.10,89.51 L452.37,87.61 L452.63,85.69 L452.90,83.79 L453.17,82.01 L453.43,80.40 L453.70,79.00 L453.97,82.43 L454.23,85.87 L454.50,89.30 L454.77,92.73 L455.03,96.17 L455.30,99.60 L455.57,96.75 L455.83,93.90 L456.10,91.05 L456.37,88.20 L456.63,85.35 L456.90,82.50 L457.16,83.21 L457.41,84.01 L457.67,84.88 L457.92,85.79 L458.18,86.71 L458.43,87.62 L458.69,88.49 L458.94,89.29 L459.20,90.00 L459.45,89.23 L459.70,88.43 L459.95,87.60 L460.20,86.75 L460.45,85.90 L460.70,85.07 L460.95,84.27 L461.20,83.50 L461.47,84.22 L461.75,85.02 L462.02,85.87 L462.30,86.75 L462.57,87.63 L462.85,88.48 L463.12,89.28 L463.40,90.00 L463.68,93.88 L463.96,97.76 L464.24,101.64 L464.52,105.52 L464.80,109.40 L465.08,101.40 L465.37,93.40 L465.65,85.40 L465.93,77.40 L466.22,69.40 L466.50,61.40 L466.77,69.19 L467.04,77.18 L467.31,85.31 L467.59,93.49 L467.86,101.62 L468.13,109.61 L468.40,117.40 L468.67,109.75 L468.93,102.10 L469.20,94.45 L469.47,86.80 L469.73,79.15 L470.00,71.50 L470.27,76.22 L470.53,80.93 L470.80,85.65 L471.07,90.37 L471.33,95.08 L471.60,99.80 L471.87,95.22 L472.14,90.53 L472.41,85.75 L472.69,80.95 L472.96,76.17 L473.23,71.48 L473.50,66.90 L473.76,74.40 L474.02,81.90 L474.28,89.40 L474.54,96.90 L474.80,104.40 L475.05,102.82 L475.30,101.23 L475.55,99.65 L475.80,98.07 L476.05,96.48 L476.30,94.90 L476.55,95.00 L476.80,95.10 L477.05,88.45 L477.30,81.80 L477.55,75.15 L477.80,68.50 L478.05,61.85 L478.30,55.20 L478.56,62.14 L478.82,69.60 L479.09,77.44 L479.35,85.50 L479.61,93.56 L479.88,101.40 L480.14,108.86 L480.40,115.80 L480.67,110.42 L480.93,104.24 L481.20,97.41 L481.47,90.15 L481.73,82.75 L482.00,75.49 L482.27,68.66 L482.53,62.48 L482.80,57.10 L483.06,63.09 L483.32,69.53 L483.59,76.30 L483.85,83.25 L484.11,90.20 L484.38,96.97 L484.64,103.41 L484.90,109.40 L485.15,107.82 L485.40,105.75 L485.65,103.25 L485.90,100.39 L486.15,97.29 L486.40,94.05 L486.65,90.81 L486.90,87.71 L487.15,84.85 L487.40,82.35 L487.65,80.28 L487.90,78.70 L488.16,82.22 L488.42,85.99 L488.69,89.97 L488.95,94.05 L489.21,98.13 L489.48,102.11 L489.74,105.88 L490.00,109.40 L490.26,104.11 L490.52,98.42 L490.79,92.44 L491.05,86.30 L491.31,80.16 L491.58,74.18 L491.84,68.49 L492.10,63.20 L492.37,71.81 L492.64,80.64 L492.91,89.63 L493.19,98.67 L493.46,107.66 L493.73,116.49 L494.00,125.10 L494.27,115.93 L494.54,106.53 L494.81,96.96 L495.09,87.34 L495.36,77.77 L495.63,68.37 L495.90,59.20 L496.16,64.49 L496.42,70.18 L496.69,76.16 L496.95,82.30 L497.21,88.44 L497.48,94.42 L497.74,100.11 L498.00,105.40 L498.27,100.75 L498.54,95.99 L498.81,91.14 L499.09,86.26 L499.36,81.41 L499.63,76.65 L499.90,72.00 L500.16,74.30 L500.42,76.78 L500.69,79.38 L500.95,82.05 L501.21,84.72 L501.48,87.32 L501.74,89.80 L502.00,92.10 L502.27,91.42 L502.53,90.73 L502.80,90.05 L503.07,89.37 L503.33,88.68 L503.60,88.00 L503.85,88.78 L504.10,89.56 L504.35,90.33 L504.60,91.11 L504.88,85.46 L505.15,79.81 L505.43,74.15 L505.70,68.50 L505.98,77.04 L506.26,85.58 L506.54,94.12 L506.82,102.66 L507.10,111.20 L507.36,106.16 L507.62,100.75 L507.89,95.05 L508.15,89.20 L508.41,83.35 L508.68,77.65 L508.94,72.24 L509.20,67.20 L509.47,72.77 L509.73,78.33 L510.00,83.90 L510.27,89.47 L510.53,95.03 L510.80,100.60 L511.07,99.19 L511.33,97.21 L511.60,94.72 L511.87,91.83 L512.13,88.64 L512.40,85.30 L512.67,81.96 L512.93,78.77 L513.20,75.88 L513.47,73.39 L513.73,71.41 L514.00,70.00 L514.27,76.17 L514.53,82.33 L514.80,88.50 L515.07,94.67 L515.33,100.83 L515.60,107.00 L515.87,103.37 L516.14,99.64 L516.41,95.86 L516.69,92.04 L516.96,88.26 L517.23,84.53 L517.50,80.90 L517.76,82.03 L518.02,83.38 L518.28,84.92 L518.54,86.60 L518.80,88.35 L519.06,90.10 L519.32,91.78 L519.58,93.32 L519.84,94.67 L520.10,95.80 L520.37,93.84 L520.63,91.58 L520.90,89.09 L521.17,86.45 L521.43,83.75 L521.70,81.11 L521.97,78.62 L522.23,76.36 L522.50,74.40 L522.78,80.12 L523.06,85.84 L523.34,91.56 L523.62,97.28 L523.90,103.00 L524.17,99.80 L524.43,96.60 L524.70,93.40 L524.97,90.20 L525.23,87.00 L525.50,83.80 L525.76,83.96 L526.02,84.12 L526.28,84.28 L526.54,84.44 L526.80,84.60 L527.07,83.67 L527.35,82.75 L527.62,81.83 L527.90,80.90 L528.17,85.78 L528.43,90.67 L528.70,95.55 L528.97,100.43 L529.23,105.32 L529.50,110.20 L529.76,102.80 L530.01,95.40 L530.27,88.00 L530.53,80.60 L530.79,73.20 L531.04,65.80 L531.30,58.40 L531.57,65.83 L531.84,73.45 L532.11,81.20 L532.39,89.00 L532.66,96.75 L532.93,104.37 L533.20,111.80 L533.48,105.60 L533.75,99.40 L534.02,93.20 L534.30,87.00" stroke="#ff0000" stroke-width="1.45"/>
<path d="M317.90,84.40 L318.20,79.73 L318.50,75.07 L318.80,70.40 L319.06,74.30 L319.32,78.48 L319.59,82.88 L319.85,87.40 L320.11,91.92 L320.38,96.32 L320.64,100.50 L320.90,104.40 L321.17,102.27 L321.44,99.66 L321.71,96.63 L321.98,93.29 L322.25,89.80 L322.52,86.31 L322.79,82.97 L323.06,79.94 L323.33,77.33 L323.60,75.20 L323.87,80.19 L324.14,85.32 L324.41,90.53 L324.69,95.77 L324.96,100.98 L325.23,106.11 L325.50,111.10 L325.76,105.80 L326.02,100.10 L326.29,94.11 L326.55,87.95 L326.81,81.79 L327.08,75.80 L327.34,70.10 L327.60,64.80 L327.87,72.20 L328.14,79.79 L328.41,87.52 L328.69,95.28 L328.96,103.01 L329.23,110.60 L329.50,118.00 L329.76,111.77 L330.01,105.54 L330.27,99.31 L330.53,93.09 L330.79,86.86 L331.04,80.63 L331.30,74.40 L331.56,75.52 L331.82,76.64 L332.08,77.76 L332.34,78.88 L332.60,80.00 L332.85,79.50 L333.10,79.00 L333.40,85.75 L333.70,92.50 L334.00,99.25 L334.30,106.00 L334.57,104.65 L334.83,102.76 L335.10,100.39 L335.37,97.63 L335.63,94.59 L335.90,91.40 L336.17,88.21 L336.43,85.17 L336.70,82.41 L336.97,80.04 L337.23,78.15 L337.50,76.80 L337.76,83.14 L338.01,89.49 L338.27,95.83 L338.53,102.17 L338.79,108.51 L339.04,114.86 L339.30,121.20 L339.57,112.53 L339.84,103.64 L340.11,94.60 L340.39,85.50 L340.66,76.46 L340.93,67.57 L341.20,58.90 L341.46,64.88 L341.73,71.30 L341.99,78.06 L342.25,85.00 L342.51,91.94 L342.77,98.70 L343.04,105.12 L343.30,111.10 L343.57,105.65 L343.83,100.20 L344.10,94.75 L344.37,89.30 L344.63,83.85 L344.90,78.40 L345.17,81.30 L345.45,84.20 L345.73,87.10 L346.00,90.00 L346.26,88.64 L346.52,87.28 L346.78,85.92 L347.04,84.56 L347.30,83.20 L347.57,85.40 L347.83,87.60 L348.10,89.80 L348.37,92.00 L348.63,94.20 L348.90,96.40 L349.17,94.23 L349.44,92.00 L349.71,89.74 L349.99,87.46 L350.26,85.20 L350.53,82.97 L350.80,80.80 L351.07,82.45 L351.33,84.35 L351.60,86.44 L351.87,88.66 L352.13,90.94 L352.40,93.16 L352.67,95.25 L352.93,97.15 L353.20,98.80 L353.46,96.41 L353.73,93.83 L353.99,91.13 L354.25,88.35 L354.51,85.57 L354.77,82.87 L355.04,80.29 L355.30,77.90 L355.57,81.38 L355.83,84.87 L356.10,88.35 L356.37,91.83 L356.63,95.32 L356.90,98.80 L357.17,95.30 L357.45,91.80 L357.73,88.30 L358.00,84.80 L358.26,87.04 L358.52,89.28 L358.78,91.52 L359.04,93.76 L359.30,96.00 L359.57,92.62 L359.83,89.23 L360.10,85.85 L360.37,82.47 L360.63,79.08 L360.90,75.70 L361.17,79.25 L361.44,82.89 L361.71,86.59 L361.99,90.31 L362.26,94.01 L362.53,97.65 L362.80,101.20 L363.06,99.05 L363.32,96.73 L363.59,94.30 L363.85,91.80 L364.11,89.30 L364.38,86.87 L364.64,84.55 L364.90,82.40 L365.18,86.96 L365.46,91.52 L365.74,96.08 L366.02,100.64 L366.30,105.20 L366.56,100.46 L366.81,95.71 L367.07,90.97 L367.33,86.23 L367.59,81.49 L367.84,76.74 L368.10,72.00 L368.37,77.98 L368.63,83.97 L368.90,89.95 L369.17,95.93 L369.43,101.92 L369.70,107.90 L369.97,102.02 L370.24,95.98 L370.51,89.84 L370.79,83.66 L371.06,77.52 L371.33,71.48 L371.60,65.60 L371.87,72.82 L372.13,80.03 L372.40,87.25 L372.67,94.47 L372.93,101.68 L373.20,108.90 L373.47,105.86 L373.74,102.13 L374.01,97.80 L374.28,93.04 L374.55,88.05 L374.82,83.06 L375.09,78.30 L375.36,73.97 L375.63,70.24 L375.90,67.20 L376.16,73.02 L376.42,79.27 L376.69,85.85 L376.95,92.60 L377.21,99.35 L377.48,105.93 L377.74,112.18 L378.00,118.00 L378.26,110.81 L378.52,103.08 L378.79,94.95 L379.05,86.60 L379.31,78.25 L379.58,70.12 L379.84,62.39 L380.10,55.20 L380.37,66.09 L380.64,77.27 L380.91,88.63 L381.19,100.07 L381.46,111.43 L381.73,122.61 L382.00,133.50 L382.26,125.08 L382.52,116.04 L382.79,106.52 L383.05,96.75 L383.31,86.98 L383.58,77.46 L383.84,68.42 L384.10,60.00 L384.37,64.46 L384.64,69.94 L384.91,76.29 L385.18,83.28 L385.45,90.60 L385.72,97.92 L385.99,104.91 L386.26,111.26 L386.53,116.74 L386.80,121.20 L387.07,111.46 L387.34,101.47 L387.61,91.31 L387.89,81.09 L388.16,70.93 L388.43,60.94 L388.70,51.20 L388.96,60.29 L389.21,69.37 L389.47,78.46 L389.73,87.54 L389.99,96.63 L390.24,105.71 L390.50,114.80 L390.77,109.67 L391.03,104.53 L391.30,99.40 L391.57,94.27 L391.83,89.13 L392.10,84.00 L392.38,87.44 L392.66,90.88 L392.94,94.32 L393.22,97.76 L393.50,101.20 L393.76,97.67 L394.02,93.88 L394.29,89.90 L394.55,85.80 L394.81,81.70 L395.08,77.72 L395.34,73.93 L395.60,70.40 L395.86,79.94 L396.11,89.49 L396.37,99.03 L396.63,108.57 L396.89,118.11 L397.14,127.66 L397.40,137.20 L397.67,127.74 L397.95,117.31 L398.23,106.15 L398.50,94.60 L398.77,83.05 L399.05,71.89 L399.33,61.46 L399.60,52.00 L399.87,58.20 L400.13,65.31 L400.40,73.18 L400.67,81.54 L400.93,90.06 L401.20,98.42 L401.47,106.29 L401.73,113.40 L402.00,119.60 L402.25,117.45 L402.50,114.17 L402.75,109.84 L403.00,104.59 L403.25,98.62 L403.50,92.14 L403.75,85.40 L404.00,78.66 L404.25,72.18 L404.50,66.21 L404.75,60.96 L405.00,56.63 L405.25,53.35 L405.50,51.20 L405.76,61.73 L406.01,72.26 L406.27,82.79 L406.53,93.31 L406.79,103.84 L407.04,114.37 L407.30,124.90 L407.57,119.83 L407.83,114.01 L408.10,107.57 L408.37,100.74 L408.63,93.76 L408.90,86.93 L409.17,80.49 L409.43,74.67 L409.70,69.60 L409.97,70.95 L410.23,72.84 L410.50,75.21 L410.77,77.97 L411.03,81.01 L411.30,84.20 L411.57,87.39 L411.83,90.43 L412.10,93.19 L412.37,95.56 L412.63,97.45 L412.90,98.80 L413.17,97.10 L413.45,95.23 L413.73,93.22 L414.00,91.15 L414.27,89.08 L414.55,87.07 L414.83,85.20 L415.10,83.50 L415.36,86.24 L415.62,88.98 L415.88,91.72 L416.14,94.46 L416.40,97.20 L416.66,94.44 L416.92,91.47 L417.19,88.35 L417.45,85.15 L417.71,81.95 L417.98,78.83 L418.24,75.86 L418.50,73.10 L418.77,78.32 L419.03,83.53 L419.30,88.75 L419.57,93.97 L419.83,99.18 L420.10,104.40 L420.37,101.92 L420.64,98.88 L420.91,95.35 L421.18,91.47 L421.45,87.40 L421.72,83.33 L421.99,79.45 L422.26,75.92 L422.53,72.88 L422.80,70.40 L423.06,75.12 L423.32,80.19 L423.59,85.52 L423.85,91.00 L424.11,96.48 L424.38,101.81 L424.64,106.88 L424.90,111.60 L425.17,108.02 L425.44,103.61 L425.71,98.50 L425.98,92.89 L426.25,87.00 L426.52,81.11 L426.79,75.50 L427.06,70.39 L427.33,65.98 L427.60,62.40 L427.87,67.30 L428.13,72.94 L428.40,79.16 L428.67,85.78 L428.93,92.52 L429.20,99.14 L429.47,105.36 L429.73,111.00 L430.00,115.90 L430.27,111.00 L430.53,105.36 L430.80,99.14 L431.07,92.52 L431.33,85.78 L431.60,79.16 L431.87,72.94 L432.13,67.30 L432.40,62.40 L432.67,68.69 L432.94,75.14 L433.21,81.70 L433.49,88.30 L433.76,94.86 L434.03,101.31 L434.30,107.60 L434.56,106.04 L434.83,104.04 L435.09,101.65 L435.35,98.96 L435.62,96.08 L435.88,93.12 L436.15,90.24 L436.41,87.55 L436.67,85.16 L436.94,83.16 L437.20,81.60 L437.47,83.88 L437.74,86.22 L438.01,88.60 L438.29,91.00 L438.56,93.38 L438.83,95.72 L439.10,98.00 L439.36,95.09 L439.61,92.17 L439.87,89.26 L440.13,86.34 L440.39,83.43 L440.64,80.51 L440.90,77.60 L441.17,81.13 L441.43,84.67 L441.70,88.20 L441.97,91.73 L442.23,95.27 L442.50,98.80 L442.77,94.49 L443.05,89.74 L443.32,84.66 L443.60,79.40 L443.88,74.14 L444.15,69.06 L444.43,64.31 L444.70,60.00 L444.96,71.28 L445.22,82.56 L445.48,93.84 L445.74,105.12 L446.00,116.40 L446.26,113.89 L446.53,110.66 L446.79,106.80 L447.05,102.45 L447.32,97.78 L447.58,93.02 L447.85,88.35 L448.11,84.00 L448.37,80.14 L448.64,76.91 L448.90,74.40 L449.17,76.15 L449.43,78.16 L449.70,80.38 L449.97,82.75 L450.23,85.15 L450.50,87.52 L450.77,89.74 L451.03,91.75 L451.30,93.50 L451.57,91.90 L451.83,90.05 L452.10,88.02 L452.37,85.85 L452.63,83.65 L452.90,81.48 L453.17,79.45 L453.43,77.60 L453.70,76.00 L453.97,79.80 L454.23,83.60 L454.50,87.40 L454.77,91.20 L455.03,95.00 L455.30,98.80 L455.57,95.58 L455.83,92.37 L456.10,89.15 L456.37,85.93 L456.63,82.72 L456.90,79.50 L457.16,80.78 L457.41,82.22 L457.67,83.77 L457.92,85.42 L458.18,87.08 L458.43,88.73 L458.69,90.28 L458.94,91.72 L459.20,93.00 L459.45,91.52 L459.70,89.98 L459.95,88.38 L460.20,86.75 L460.45,85.12 L460.70,83.52 L460.95,81.98 L461.20,80.50 L461.47,81.56 L461.75,82.72 L462.02,83.96 L462.30,85.25 L462.57,86.54 L462.85,87.78 L463.12,88.94 L463.40,90.00 L463.68,94.48 L463.96,98.96 L464.24,103.44 L464.52,107.92 L464.80,112.40 L465.08,103.40 L465.37,94.40 L465.65,85.40 L465.93,76.40 L466.22,67.40 L466.50,58.40 L466.77,67.03 L467.04,75.87 L467.31,84.87 L467.59,93.93 L467.86,102.93 L468.13,111.77 L468.40,120.40 L468.67,112.47 L468.93,104.53 L469.20,96.60 L469.47,88.67 L469.73,80.73 L470.00,72.80 L470.27,77.80 L470.53,82.80 L470.80,87.80 L471.07,92.80 L471.33,97.80 L471.60,102.80 L471.87,97.96 L472.14,92.99 L472.41,87.94 L472.69,82.86 L472.96,77.81 L473.23,72.84 L473.50,68.00 L473.76,75.12 L474.02,82.24 L474.28,89.36 L474.54,96.48 L474.80,103.60 L475.05,102.00 L475.30,100.40 L475.55,98.80 L475.80,97.20 L476.05,95.60 L476.30,94.00 L476.55,95.00 L476.80,96.00 L477.05,89.33 L477.30,82.67 L477.55,76.00 L477.80,69.33 L478.05,62.67 L478.30,56.00 L478.56,63.19 L478.82,70.92 L479.09,79.05 L479.35,87.40 L479.61,95.75 L479.88,103.88 L480.14,111.61 L480.40,118.80 L480.67,113.34 L480.93,107.06 L481.20,100.13 L481.47,92.76 L481.73,85.24 L482.00,77.87 L482.27,70.94 L482.53,64.66 L482.80,59.20 L483.06,65.29 L483.32,71.84 L483.59,78.73 L483.85,85.80 L484.11,92.87 L484.38,99.76 L484.64,106.31 L484.90,112.40 L485.15,110.51 L485.40,108.04 L485.65,105.05 L485.90,101.63 L486.15,97.92 L486.40,94.05 L486.65,90.18 L486.90,86.47 L487.15,83.05 L487.40,80.06 L487.65,77.59 L487.90,75.70 L488.16,79.90 L488.42,84.42 L488.69,89.17 L488.95,94.05 L489.21,98.93 L489.48,103.68 L489.74,108.20 L490.00,112.40 L490.26,107.04 L490.52,101.28 L490.79,95.22 L491.05,89.00 L491.31,82.78 L491.58,76.72 L491.84,70.96 L492.10,65.60 L492.37,74.30 L492.64,83.21 L492.91,92.29 L493.19,101.41 L493.46,110.49 L493.73,119.40 L494.00,128.10 L494.27,118.74 L494.54,109.13 L494.81,99.36 L495.09,89.54 L495.36,79.77 L495.63,70.16 L495.90,60.80 L496.16,66.25 L496.42,72.11 L496.69,78.27 L496.95,84.60 L497.21,90.93 L497.48,97.09 L497.74,102.95 L498.00,108.40 L498.27,103.56 L498.54,98.59 L498.81,93.54 L499.09,88.46 L499.36,83.41 L499.63,78.44 L499.90,73.60 L500.16,76.03 L500.42,78.64 L500.69,81.38 L500.95,84.20 L501.21,87.02 L501.48,89.76 L501.74,92.37 L502.00,94.80 L502.27,93.80 L502.53,92.80 L502.80,91.80 L503.07,90.80 L503.33,89.80 L503.60,88.80 L503.85,89.85 L504.10,90.90 L504.35,91.95 L504.60,93.00 L504.88,87.35 L505.15,81.70 L505.43,76.05 L505.70,70.40 L505.98,78.42 L506.26,86.44 L506.54,94.46 L506.82,102.48 L507.10,110.50 L507.36,105.72 L507.62,100.59 L507.89,95.19 L508.15,89.65 L508.41,84.11 L508.68,78.71 L508.94,73.58 L509.20,68.80 L509.47,74.60 L509.73,80.40 L510.00,86.20 L510.27,92.00 L510.53,97.80 L510.80,103.60 L511.07,102.14 L511.33,100.10 L511.60,97.53 L511.87,94.54 L512.13,91.25 L512.40,87.80 L512.67,84.35 L512.93,81.06 L513.20,78.07 L513.47,75.50 L513.73,73.46 L514.00,72.00 L514.27,78.33 L514.53,84.67 L514.80,91.00 L515.07,97.33 L515.33,103.67 L515.60,110.00 L515.87,105.53 L516.14,100.95 L516.41,96.29 L516.69,91.61 L516.96,86.95 L517.23,82.37 L517.50,77.90 L517.76,79.48 L518.02,81.38 L518.28,83.54 L518.54,85.90 L518.80,88.35 L519.06,90.80 L519.32,93.16 L519.58,95.32 L519.84,97.22 L520.10,98.80 L520.37,96.64 L520.63,94.15 L520.90,91.41 L521.17,88.49 L521.43,85.51 L521.70,82.59 L521.97,79.85 L522.23,77.36 L522.50,75.20 L522.78,81.36 L523.06,87.52 L523.34,93.68 L523.62,99.84 L523.90,106.00 L524.17,101.80 L524.43,97.60 L524.70,93.40 L524.97,89.20 L525.23,85.00 L525.50,80.80 L525.76,82.16 L526.02,83.52 L526.28,84.88 L526.54,86.24 L526.80,87.60 L527.07,85.17 L527.35,82.75 L527.62,80.33 L527.90,77.90 L528.17,83.78 L528.43,89.67 L528.70,95.55 L528.97,101.43 L529.23,107.32 L529.50,113.20 L529.76,105.56 L530.01,97.91 L530.27,90.27 L530.53,82.63 L530.79,74.99 L531.04,67.34 L531.30,59.70 L531.57,67.37 L531.84,75.23 L532.11,83.23 L532.39,91.27 L532.66,99.27 L532.93,107.13 L533.20,114.80 L533.48,108.10 L533.75,101.40 L534.02,94.70 L534.30,88.00" stroke="#0000ff" stroke-width="1.45"/>
</g>
<path d="M317.8,176.5 L317.8,11.5 L534.5,11.5 L534.5,176.5 Z" fill="none" stroke="#2a2a2a" stroke-width="1"/>
<path d="M317.80,173.5 L317.80,179.5" stroke="#2a2a2a" stroke-width="1"/>
<text x="317.80" y="192.40" text-anchor="middle" class="t">500</text>
<path d="M339.47,174.5 L339.47,176.5" stroke="#2a2a2a" stroke-width="0.8"/>
<path d="M361.14,173.5 L361.14,179.5" stroke="#2a2a2a" stroke-width="1"/>
<text x="361.14" y="192.40" text-anchor="middle" class="t">700</text>
<path d="M382.81,174.5 L382.81,176.5" stroke="#2a2a2a" stroke-width="0.8"/>
<path d="M404.48,173.5 L404.48,179.5" stroke="#2a2a2a" stroke-width="1"/>
<text x="404.48" y="192.40" text-anchor="middle" class="t">900</text>
<path d="M426.15,174.5 L426.15,176.5" stroke="#2a2a2a" stroke-width="0.8"/>
<path d="M447.82,173.5 L447.82,179.5" stroke="#2a2a2a" stroke-width="1"/>
<text x="447.82" y="192.40" text-anchor="middle" class="t">1100</text>
<path d="M469.49,174.5 L469.49,176.5" stroke="#2a2a2a" stroke-width="0.8"/>
<path d="M491.16,173.5 L491.16,179.5" stroke="#2a2a2a" stroke-width="1"/>
<text x="491.16" y="192.40" text-anchor="middle" class="t">1300</text>
<path d="M512.83,174.5 L512.83,176.5" stroke="#2a2a2a" stroke-width="0.8"/>
<path d="M534.50,173.5 L534.50,179.5" stroke="#2a2a2a" stroke-width="1"/>
<text x="534.50" y="192.40" text-anchor="middle" class="t">1500</text>
<path d="M314.3,23.72 L320.8,23.72" stroke="#2a2a2a" stroke-width="1"/>
<text x="308.90" y="27.12" text-anchor="end" class="t">10</text>
<path d="M314.3,54.28 L320.8,54.28" stroke="#2a2a2a" stroke-width="1"/>
<text x="308.90" y="57.68" text-anchor="end" class="t">5</text>
<path d="M314.3,84.83 L320.8,84.83" stroke="#2a2a2a" stroke-width="1"/>
<text x="308.90" y="88.23" text-anchor="end" class="t">0</text>
<path d="M314.3,115.39 L320.8,115.39" stroke="#2a2a2a" stroke-width="1"/>
<text x="308.90" y="118.79" text-anchor="end" class="t">−<tspan dx="0.6">5</tspan></text>
<path d="M314.3,145.94 L320.8,145.94" stroke="#2a2a2a" stroke-width="1"/>
<text x="308.90" y="149.34" text-anchor="end" class="t">−<tspan dx="0.6">10</tspan></text>
<path d="M314.3,176.50 L320.8,176.50" stroke="#2a2a2a" stroke-width="1"/>
<text x="308.90" y="179.90" text-anchor="end" class="t">−<tspan dx="0.6">15</tspan></text>
<path d="M317.8,39.00 L319.8,39.00" stroke="#2a2a2a" stroke-width="0.8"/>
<path d="M317.8,69.56 L319.8,69.56" stroke="#2a2a2a" stroke-width="0.8"/>
<path d="M317.8,100.11 L319.8,100.11" stroke="#2a2a2a" stroke-width="0.8"/>
<path d="M317.8,130.67 L319.8,130.67" stroke="#2a2a2a" stroke-width="0.8"/>
<path d="M317.8,161.22 L319.8,161.22" stroke="#2a2a2a" stroke-width="0.8"/>
<text x="426.15" y="206.50" text-anchor="middle" class="l">Time/s</text>
<text transform="translate(285.5,100.60) rotate(-90)" text-anchor="middle" class="l" style="font-size:11.3px">Heave/m</text>
<path d="M407.50,19.70 L421.60,19.70" stroke="#ff0000" stroke-width="1.6"/>
<text x="422.80" y="22.90" class="g">1st-order only</text>
<path d="M407.50,37.40 L421.60,37.40" stroke="#0000ff" stroke-width="1.4"/>
<text x="422.80" y="40.70" class="g">1st-order + 2nd-order</text>
<clipPath id="c3"><rect x="43.5" y="227.8" width="216.39999999999998" height="165.09999999999997"/></clipPath>
<g clip-path="url(#c3)" fill="none" stroke-linejoin="round" stroke-linecap="round">
<path d="M43.70,318.00 L43.97,321.40 L44.23,324.80 L44.50,328.20 L44.77,324.39 L45.04,320.48 L45.31,316.50 L45.59,312.50 L45.86,308.52 L46.13,304.61 L46.40,300.80 L46.67,303.02 L46.93,305.57 L47.20,308.38 L47.47,311.37 L47.73,314.43 L48.00,317.42 L48.27,320.23 L48.53,322.78 L48.80,325.00 L49.07,323.57 L49.34,321.82 L49.61,319.78 L49.88,317.54 L50.15,315.20 L50.42,312.86 L50.69,310.62 L50.96,308.58 L51.23,306.83 L51.50,305.40 L51.76,308.84 L52.02,312.53 L52.29,316.41 L52.55,320.40 L52.81,324.39 L53.08,328.27 L53.34,331.96 L53.60,335.40 L53.86,330.74 L54.12,325.73 L54.39,320.46 L54.65,315.05 L54.91,309.64 L55.18,304.37 L55.44,299.36 L55.70,294.70 L55.98,298.69 L56.25,303.08 L56.52,307.78 L56.80,312.65 L57.08,317.52 L57.35,322.22 L57.62,326.61 L57.90,330.60 L58.16,329.11 L58.42,327.34 L58.68,325.31 L58.94,323.10 L59.20,320.80 L59.46,318.50 L59.72,316.29 L59.98,314.26 L60.24,312.49 L60.50,311.00 L60.77,312.14 L61.04,313.53 L61.31,315.15 L61.58,316.93 L61.85,318.80 L62.12,320.67 L62.39,322.45 L62.66,324.07 L62.93,325.46 L63.20,326.60 L63.47,324.28 L63.74,321.42 L64.01,318.11 L64.28,314.47 L64.55,310.65 L64.82,306.83 L65.09,303.19 L65.36,299.88 L65.63,297.02 L65.90,294.70 L66.16,301.24 L66.41,307.79 L66.67,314.33 L66.93,320.87 L67.19,327.41 L67.44,333.96 L67.70,340.50 L67.97,332.82 L68.23,325.13 L68.50,317.45 L68.77,309.77 L69.03,302.08 L69.30,294.40 L69.57,299.41 L69.84,304.55 L70.11,309.77 L70.39,315.03 L70.66,320.25 L70.93,325.39 L71.20,330.40 L71.47,327.62 L71.74,324.76 L72.01,321.86 L72.29,318.94 L72.56,316.04 L72.83,313.18 L73.10,310.40 L73.35,312.05 L73.60,313.70 L73.85,315.35 L74.10,317.00 L74.38,315.55 L74.65,314.10 L74.92,312.65 L75.20,311.20 L75.47,312.45 L75.74,313.74 L76.01,315.04 L76.29,316.36 L76.56,317.66 L76.83,318.95 L77.10,320.20 L77.36,318.34 L77.61,316.49 L77.87,314.63 L78.13,312.77 L78.39,310.91 L78.64,309.06 L78.90,307.20 L79.18,309.29 L79.45,311.59 L79.72,314.05 L80.00,316.60 L80.28,319.15 L80.55,321.61 L80.82,323.91 L81.10,326.00 L81.36,323.09 L81.61,320.17 L81.87,317.26 L82.13,314.34 L82.39,311.43 L82.64,308.51 L82.90,305.60 L83.17,307.94 L83.44,310.33 L83.71,312.77 L83.99,315.23 L84.26,317.67 L84.53,320.06 L84.80,322.40 L85.08,320.55 L85.35,318.70 L85.62,316.85 L85.90,315.00 L86.16,315.72 L86.42,316.44 L86.68,317.16 L86.94,317.88 L87.20,318.60 L87.47,317.54 L87.74,316.46 L88.01,315.35 L88.29,314.25 L88.56,313.14 L88.83,312.06 L89.10,311.00 L89.36,312.66 L89.61,314.31 L89.87,315.97 L90.13,317.63 L90.39,319.29 L90.64,320.94 L90.90,322.60 L91.17,320.21 L91.44,317.75 L91.71,315.26 L91.99,312.74 L92.26,310.25 L92.53,307.79 L92.80,305.40 L93.07,309.70 L93.33,314.00 L93.60,318.30 L93.87,322.60 L94.13,326.90 L94.40,331.20 L94.67,325.87 L94.93,320.53 L95.20,315.20 L95.47,309.87 L95.73,304.53 L96.00,299.20 L96.27,305.28 L96.54,311.52 L96.81,317.86 L97.09,324.24 L97.36,330.58 L97.63,336.82 L97.90,342.90 L98.16,332.18 L98.42,321.46 L98.68,310.74 L98.94,300.02 L99.20,289.30 L99.47,296.20 L99.74,303.28 L100.01,310.48 L100.29,317.72 L100.56,324.92 L100.83,332.00 L101.10,338.90 L101.37,334.95 L101.63,330.41 L101.90,325.40 L102.17,320.07 L102.43,314.63 L102.70,309.30 L102.97,304.29 L103.23,299.75 L103.50,295.80 L103.77,300.31 L104.03,305.49 L104.30,311.22 L104.57,317.30 L104.83,323.50 L105.10,329.58 L105.37,335.31 L105.63,340.49 L105.90,345.00 L106.17,339.09 L106.43,332.30 L106.70,324.79 L106.97,316.82 L107.23,308.68 L107.50,300.71 L107.77,293.20 L108.03,286.41 L108.30,280.50 L108.57,292.63 L108.83,304.77 L109.10,316.90 L109.37,329.03 L109.63,341.17 L109.90,353.30 L110.16,348.59 L110.42,342.96 L110.68,336.54 L110.94,329.54 L111.20,322.25 L111.46,314.96 L111.72,307.96 L111.98,301.54 L112.24,295.91 L112.50,291.20 L112.78,297.33 L113.05,304.09 L113.33,311.31 L113.60,318.80 L113.88,326.29 L114.15,333.51 L114.42,340.27 L114.70,346.40 L114.96,338.83 L115.22,330.70 L115.49,322.14 L115.75,313.35 L116.01,304.56 L116.28,296.00 L116.54,287.87 L116.80,280.30 L117.07,289.75 L117.33,299.20 L117.60,308.65 L117.87,318.10 L118.13,327.55 L118.40,337.00 L118.67,333.10 L118.93,329.20 L119.20,325.30 L119.47,321.40 L119.73,317.50 L120.00,313.60 L120.25,314.57 L120.50,315.53 L120.75,316.50 L121.00,317.47 L121.25,318.43 L121.50,319.40 L121.75,317.37 L122.00,315.01 L122.25,312.37 L122.50,309.51 L122.75,306.55 L123.00,303.59 L123.25,300.73 L123.50,298.09 L123.75,295.73 L124.00,293.70 L124.27,302.25 L124.53,310.80 L124.80,319.35 L125.07,327.90 L125.33,336.45 L125.60,345.00 L125.86,339.39 L126.12,333.36 L126.39,327.02 L126.65,320.50 L126.91,313.98 L127.17,307.64 L127.44,301.61 L127.70,296.00 L127.97,300.56 L128.24,305.24 L128.51,310.00 L128.79,314.80 L129.06,319.56 L129.33,324.24 L129.60,328.80 L129.87,327.70 L130.13,326.60 L130.40,325.50 L130.67,324.40 L130.93,323.30 L131.20,322.20 L131.55,326.45 L131.90,330.70 L132.18,323.05 L132.47,315.40 L132.75,307.75 L133.03,300.10 L133.32,292.45 L133.60,284.80 L133.87,293.06 L134.14,301.54 L134.41,310.16 L134.69,318.84 L134.96,327.46 L135.23,335.94 L135.50,344.20 L135.76,338.84 L136.03,333.08 L136.29,327.02 L136.55,320.80 L136.81,314.58 L137.07,308.52 L137.34,302.76 L137.60,297.40 L137.86,299.05 L138.13,301.17 L138.39,303.71 L138.65,306.57 L138.92,309.63 L139.18,312.77 L139.45,315.83 L139.71,318.69 L139.97,321.23 L140.24,323.35 L140.50,325.00 L140.77,323.45 L141.03,321.67 L141.30,319.70 L141.57,317.62 L141.83,315.48 L142.10,313.40 L142.37,311.43 L142.63,309.65 L142.90,308.10 L143.17,310.12 L143.44,312.19 L143.71,314.29 L143.99,316.41 L144.26,318.51 L144.53,320.58 L144.80,322.60 L145.07,319.77 L145.33,316.93 L145.60,314.10 L145.87,311.27 L146.13,308.43 L146.40,305.60 L146.66,307.89 L146.93,310.35 L147.19,312.94 L147.45,315.60 L147.71,318.26 L147.97,320.85 L148.24,323.31 L148.50,325.60 L148.78,323.20 L149.05,320.56 L149.32,317.73 L149.60,314.80 L149.88,311.87 L150.15,309.04 L150.42,306.40 L150.70,304.00 L150.97,306.07 L151.23,308.45 L151.50,311.08 L151.77,313.87 L152.03,316.73 L152.30,319.52 L152.57,322.15 L152.83,324.53 L153.10,326.60 L153.36,323.19 L153.62,319.52 L153.89,315.66 L154.15,311.70 L154.41,307.74 L154.67,303.88 L154.94,300.21 L155.20,296.80 L155.47,299.52 L155.74,302.86 L156.01,306.73 L156.28,310.99 L156.55,315.45 L156.82,319.91 L157.09,324.17 L157.36,328.04 L157.63,331.38 L157.90,334.10 L158.16,329.95 L158.43,325.50 L158.69,320.81 L158.95,316.00 L159.21,311.19 L159.47,306.50 L159.74,302.05 L160.00,297.90 L160.26,301.65 L160.53,305.67 L160.79,309.90 L161.05,314.25 L161.31,318.60 L161.57,322.83 L161.84,326.85 L162.10,330.60 L162.37,328.92 L162.63,327.00 L162.90,324.87 L163.17,322.60 L163.43,320.30 L163.70,318.03 L163.97,315.90 L164.23,313.98 L164.50,312.30 L164.77,313.37 L165.03,314.60 L165.30,315.97 L165.57,317.41 L165.83,318.89 L166.10,320.33 L166.37,321.70 L166.63,322.93 L166.90,324.00 L167.17,321.89 L167.44,319.72 L167.71,317.51 L167.99,315.29 L168.26,313.08 L168.53,310.91 L168.80,308.80 L169.06,311.64 L169.33,314.69 L169.59,317.90 L169.85,321.20 L170.11,324.50 L170.38,327.71 L170.64,330.76 L170.90,333.60 L171.17,326.15 L171.43,318.70 L171.70,311.25 L171.97,303.80 L172.23,296.35 L172.50,288.90 L172.77,297.11 L173.04,305.53 L173.31,314.09 L173.59,322.71 L173.86,331.27 L174.13,339.69 L174.40,347.90 L174.66,342.54 L174.93,336.78 L175.19,330.72 L175.45,324.50 L175.71,318.28 L175.97,312.22 L176.24,306.46 L176.50,301.10 L176.77,303.14 L177.03,305.49 L177.30,308.09 L177.57,310.84 L177.83,313.66 L178.10,316.41 L178.37,319.01 L178.63,321.36 L178.90,323.40 L179.17,322.15 L179.44,320.61 L179.71,318.82 L179.98,316.86 L180.25,314.80 L180.52,312.74 L180.79,310.78 L181.06,308.99 L181.33,307.45 L181.60,306.20 L181.87,309.47 L182.13,312.73 L182.40,316.00 L182.67,319.27 L182.93,322.53 L183.20,325.80 L183.46,324.38 L183.72,322.85 L183.99,321.25 L184.25,319.60 L184.51,317.95 L184.78,316.35 L185.04,314.82 L185.30,313.40 L185.57,313.90 L185.84,314.41 L186.11,314.94 L186.39,315.46 L186.66,315.99 L186.93,316.50 L187.20,317.00 L187.46,316.62 L187.73,315.97 L187.99,315.08 L188.26,313.97 L188.52,312.70 L188.79,311.30 L189.05,309.85 L189.31,308.40 L189.58,307.00 L189.84,305.73 L190.11,304.62 L190.37,303.73 L190.64,303.08 L190.90,302.70 L191.16,307.47 L191.41,312.24 L191.67,317.01 L191.93,321.79 L192.19,326.56 L192.44,331.33 L192.70,336.10 L192.97,329.63 L193.24,323.00 L193.51,316.25 L193.79,309.45 L194.06,302.70 L194.33,296.07 L194.60,289.60 L194.88,297.60 L195.17,305.60 L195.45,313.60 L195.73,321.60 L196.02,329.60 L196.30,337.60 L196.57,332.70 L196.84,327.68 L197.11,322.57 L197.39,317.43 L197.66,312.32 L197.93,307.30 L198.20,302.40 L198.50,308.65 L198.80,314.90 L199.10,321.15 L199.40,327.40 L199.68,322.77 L199.97,318.13 L200.25,313.50 L200.53,308.87 L200.82,304.23 L201.10,299.60 L201.38,304.18 L201.66,308.76 L201.94,313.34 L202.22,317.92 L202.50,322.50 L202.80,320.23 L203.10,317.95 L203.40,315.67 L203.70,313.40 L204.00,318.17 L204.30,322.95 L204.60,327.73 L204.90,332.50 L205.17,326.02 L205.43,319.53 L205.70,313.05 L205.97,306.57 L206.23,300.08 L206.50,293.60 L206.78,298.67 L207.05,304.24 L207.32,310.22 L207.60,316.40 L207.88,322.58 L208.15,328.56 L208.42,334.13 L208.70,339.20 L208.97,332.86 L209.24,326.35 L209.51,319.73 L209.79,313.07 L210.06,306.45 L210.33,299.94 L210.60,293.60 L210.86,296.33 L211.12,299.60 L211.38,303.32 L211.64,307.37 L211.90,311.60 L212.16,315.83 L212.42,319.88 L212.68,323.60 L212.94,326.87 L213.20,329.60 L213.46,328.42 L213.72,326.82 L213.97,324.85 L214.23,322.58 L214.49,320.10 L214.75,317.50 L215.01,314.90 L215.27,312.42 L215.53,310.15 L215.78,308.18 L216.04,306.58 L216.30,305.40 L216.56,310.71 L216.81,316.03 L217.07,321.34 L217.33,326.66 L217.59,331.97 L217.84,337.29 L218.10,342.60 L218.37,336.99 L218.63,330.55 L218.90,323.42 L219.17,315.86 L219.43,308.14 L219.70,300.58 L219.97,293.45 L220.23,287.01 L220.50,281.40 L220.77,291.87 L221.03,302.33 L221.30,312.80 L221.57,323.27 L221.83,333.73 L222.10,344.20 L222.37,337.55 L222.64,330.73 L222.91,323.79 L223.19,316.81 L223.46,309.87 L223.73,303.05 L224.00,296.40 L224.25,300.48 L224.50,304.76 L224.75,309.19 L225.00,313.70 L225.25,318.21 L225.50,322.64 L225.75,326.92 L226.00,331.00 L226.26,328.14 L226.53,325.06 L226.79,321.82 L227.05,318.50 L227.31,315.18 L227.57,311.94 L227.84,308.86 L228.10,306.00 L228.38,308.26 L228.66,310.52 L228.94,312.78 L229.22,315.04 L229.50,317.30 L229.75,317.23 L230.00,317.15 L230.25,317.08 L230.50,317.00 L230.75,316.92 L231.00,316.85 L231.25,316.77 L231.50,316.70 L231.80,321.45 L232.10,326.20 L232.36,322.00 L232.61,317.80 L232.87,313.60 L233.13,309.40 L233.39,305.20 L233.64,301.00 L233.90,296.80 L234.16,305.96 L234.42,315.12 L234.68,324.28 L234.94,333.44 L235.20,342.60 L235.47,338.02 L235.73,332.75 L236.00,326.93 L236.27,320.75 L236.53,314.45 L236.80,308.27 L237.07,302.45 L237.33,297.18 L237.60,292.60 L237.87,298.80 L238.13,305.00 L238.40,311.20 L238.67,317.40 L238.93,323.60 L239.20,329.80 L239.47,327.36 L239.74,324.36 L240.01,320.88 L240.28,317.06 L240.55,313.05 L240.82,309.04 L241.09,305.22 L241.36,301.74 L241.63,298.74 L241.90,296.30 L242.17,301.75 L242.43,307.20 L242.70,312.65 L242.97,318.10 L243.23,323.55 L243.50,329.00 L243.76,327.49 L244.02,325.69 L244.28,323.63 L244.54,321.39 L244.80,319.05 L245.06,316.71 L245.32,314.47 L245.58,312.41 L245.84,310.61 L246.10,309.10 L246.37,310.98 L246.64,312.90 L246.91,314.86 L247.19,316.84 L247.46,318.80 L247.73,320.72 L248.00,322.60 L248.26,320.69 L248.53,318.63 L248.79,316.47 L249.05,314.25 L249.31,312.03 L249.57,309.87 L249.84,307.81 L250.10,305.90 L250.37,308.64 L250.64,311.45 L250.91,314.31 L251.19,317.19 L251.46,320.05 L251.73,322.86 L252.00,325.60 L252.28,322.87 L252.55,320.14 L252.82,317.41 L253.10,314.68 L253.36,314.73 L253.62,314.78 L253.88,314.82 L254.14,314.87 L254.40,314.92 L254.67,313.07 L254.93,311.21 L255.20,309.36 L255.47,307.51 L255.73,305.65 L256.00,303.80 L256.26,310.28 L256.52,316.76 L256.78,323.24 L257.04,329.72 L257.30,336.20 L257.57,330.05 L257.84,323.74 L258.11,317.33 L258.39,310.87 L258.66,304.46 L258.93,298.15 L259.20,292.00 L259.50,294.67 L259.80,297.33 L260.10,300.00" stroke="#ff0000" stroke-width="1.45"/>
<path d="M43.70,318.00 L43.97,322.40 L44.23,326.80 L44.50,331.20 L44.77,327.19 L45.04,323.08 L45.31,318.90 L45.59,314.70 L45.86,310.52 L46.13,306.41 L46.40,302.40 L46.67,304.75 L46.93,307.44 L47.20,310.42 L47.47,313.59 L47.73,316.81 L48.00,319.98 L48.27,322.96 L48.53,325.65 L48.80,328.00 L49.07,326.14 L49.34,323.84 L49.61,321.19 L49.88,318.26 L50.15,315.20 L50.42,312.14 L50.69,309.21 L50.96,306.56 L51.23,304.26 L51.50,302.40 L51.76,306.52 L52.02,310.95 L52.29,315.61 L52.55,320.40 L52.81,325.19 L53.08,329.85 L53.34,334.28 L53.60,338.40 L53.86,333.05 L54.12,327.31 L54.39,321.26 L54.65,315.05 L54.91,308.84 L55.18,302.79 L55.44,297.05 L55.70,291.70 L55.98,296.35 L56.25,301.48 L56.52,306.97 L56.80,312.65 L57.08,318.33 L57.35,323.82 L57.62,328.95 L57.90,333.60 L58.16,331.66 L58.42,329.34 L58.68,326.69 L58.94,323.81 L59.20,320.80 L59.46,317.79 L59.72,314.91 L59.98,312.26 L60.24,309.94 L60.50,308.00 L60.77,309.57 L61.04,311.51 L61.31,313.75 L61.58,316.22 L61.85,318.80 L62.12,321.38 L62.39,323.85 L62.66,326.09 L62.93,328.03 L63.20,329.60 L63.47,326.84 L63.74,323.45 L64.01,319.51 L64.28,315.18 L64.55,310.65 L64.82,306.12 L65.09,301.79 L65.36,297.85 L65.63,294.46 L65.90,291.70 L66.16,299.10 L66.41,306.50 L66.67,313.90 L66.93,321.30 L67.19,328.70 L67.44,336.10 L67.70,343.50 L67.97,336.25 L68.23,329.00 L68.50,321.75 L68.77,314.50 L69.03,307.25 L69.30,300.00 L69.57,303.67 L69.84,307.44 L70.11,311.27 L70.39,315.13 L70.66,318.96 L70.93,322.73 L71.20,326.40 L71.47,324.62 L71.74,322.79 L72.01,320.93 L72.29,319.07 L72.56,317.21 L72.83,315.38 L73.10,313.60 L73.35,314.80 L73.60,316.00 L73.85,317.20 L74.10,318.40 L74.38,317.05 L74.65,315.70 L74.92,314.35 L75.20,313.00 L75.47,314.42 L75.74,315.87 L76.01,317.36 L76.29,318.84 L76.56,320.33 L76.83,321.78 L77.10,323.20 L77.36,321.26 L77.61,319.31 L77.87,317.37 L78.13,315.43 L78.39,313.49 L78.64,311.54 L78.90,309.60 L79.18,311.20 L79.45,312.96 L79.72,314.85 L80.00,316.80 L80.28,318.75 L80.55,320.64 L80.82,322.40 L81.10,324.00 L81.36,321.60 L81.61,319.20 L81.87,316.80 L82.13,314.40 L82.39,312.00 L82.64,309.60 L82.90,307.20 L83.17,309.09 L83.44,311.03 L83.71,313.01 L83.99,314.99 L84.26,316.97 L84.53,318.91 L84.80,320.80 L85.08,318.60 L85.35,316.40 L85.62,314.20 L85.90,312.00 L86.16,313.92 L86.42,315.84 L86.68,317.76 L86.94,319.68 L87.20,321.60 L87.47,319.71 L87.74,317.77 L88.01,315.79 L88.29,313.81 L88.56,311.83 L88.83,309.89 L89.10,308.00 L89.36,310.51 L89.61,313.03 L89.87,315.54 L90.13,318.06 L90.39,320.57 L90.64,323.09 L90.90,325.60 L91.17,322.37 L91.44,319.06 L91.71,315.69 L91.99,312.31 L92.26,308.94 L92.53,305.63 L92.80,302.40 L93.07,305.87 L93.33,309.33 L93.60,312.80 L93.87,316.27 L94.13,319.73 L94.40,323.20 L94.67,320.80 L94.93,318.40 L95.20,316.00 L95.47,313.60 L95.73,311.20 L96.00,308.80 L96.27,313.14 L96.54,317.59 L96.81,322.12 L97.09,326.68 L97.36,331.21 L97.63,335.66 L97.90,340.00 L98.16,330.02 L98.42,320.04 L98.68,310.06 L98.94,300.08 L99.20,290.10 L99.47,297.31 L99.74,304.70 L100.01,312.22 L100.29,319.78 L100.56,327.30 L100.83,334.69 L101.10,341.90 L101.37,337.40 L101.63,332.23 L101.90,326.52 L102.17,320.45 L102.43,314.25 L102.70,308.18 L102.97,302.47 L103.23,297.30 L103.50,292.80 L103.77,297.86 L104.03,303.67 L104.30,310.10 L104.57,316.92 L104.83,323.88 L105.10,330.70 L105.37,337.13 L105.63,342.94 L105.90,348.00 L106.17,342.35 L106.43,335.87 L106.70,328.70 L106.97,321.08 L107.23,313.32 L107.50,305.70 L107.77,298.53 L108.03,292.05 L108.30,286.40 L108.57,298.05 L108.83,309.70 L109.10,321.35 L109.37,333.00 L109.63,344.65 L109.90,356.30 L110.16,352.15 L110.42,347.19 L110.68,341.53 L110.94,335.37 L111.20,328.95 L111.46,322.53 L111.72,316.37 L111.98,310.71 L112.24,305.75 L112.50,301.60 L112.78,305.60 L113.05,310.00 L113.33,314.72 L113.60,319.60 L113.88,324.48 L114.15,329.20 L114.42,333.60 L114.70,337.60 L114.96,330.69 L115.22,323.27 L115.49,315.47 L115.75,307.45 L116.01,299.43 L116.28,291.63 L116.54,284.21 L116.80,277.30 L117.07,287.75 L117.33,298.20 L117.60,308.65 L117.87,319.10 L118.13,329.55 L118.40,340.00 L118.67,335.83 L118.93,331.67 L119.20,327.50 L119.47,323.33 L119.73,319.17 L120.00,315.00 L120.25,316.23 L120.50,317.47 L120.75,318.70 L121.00,319.93 L121.25,321.17 L121.50,322.40 L121.75,319.90 L122.00,316.99 L122.25,313.72 L122.50,310.20 L122.75,306.55 L123.00,302.90 L123.25,299.38 L123.50,296.11 L123.75,293.20 L124.00,290.70 L124.27,300.25 L124.53,309.80 L124.80,319.35 L125.07,328.90 L125.33,338.45 L125.60,348.00 L125.86,342.41 L126.12,336.41 L126.39,330.09 L126.65,323.60 L126.91,317.11 L127.17,310.79 L127.44,304.79 L127.70,299.20 L127.97,303.21 L128.24,307.32 L128.51,311.50 L128.79,315.70 L129.06,319.88 L129.33,323.99 L129.60,328.00 L129.87,326.53 L130.13,325.07 L130.40,323.60 L130.67,322.13 L130.93,320.67 L131.20,319.20 L131.55,324.40 L131.90,329.60 L132.18,322.67 L132.47,315.73 L132.75,308.80 L133.03,301.87 L133.32,294.93 L133.60,288.00 L133.87,296.24 L134.14,304.68 L134.41,313.28 L134.69,321.92 L134.96,330.52 L135.23,338.96 L135.50,347.20 L135.76,341.15 L136.03,334.66 L136.29,327.82 L136.55,320.80 L136.81,313.78 L137.07,306.94 L137.34,300.45 L137.60,294.40 L137.86,296.41 L138.13,298.99 L138.39,302.08 L138.65,305.56 L138.92,309.29 L139.18,313.11 L139.45,316.84 L139.71,320.32 L139.97,323.41 L140.24,325.99 L140.50,328.00 L140.77,325.90 L141.03,323.49 L141.30,320.82 L141.57,317.99 L141.83,315.11 L142.10,312.28 L142.37,309.61 L142.63,307.20 L142.90,305.10 L143.17,307.95 L143.44,310.88 L143.71,313.85 L143.99,316.85 L144.26,319.82 L144.53,322.75 L144.80,325.60 L145.07,322.67 L145.33,319.73 L145.60,316.80 L145.87,313.87 L146.13,310.93 L146.40,308.00 L146.66,309.65 L146.93,311.42 L147.19,313.29 L147.45,315.20 L147.71,317.11 L147.97,318.98 L148.24,320.75 L148.50,322.40 L148.78,320.53 L149.05,318.48 L149.32,316.28 L149.60,314.00 L149.88,311.72 L150.15,309.52 L150.42,307.47 L150.70,305.60 L150.97,307.80 L151.23,310.33 L151.50,313.12 L151.77,316.09 L152.03,319.11 L152.30,322.08 L152.57,324.87 L152.83,327.40 L153.10,329.60 L153.36,326.03 L153.62,322.19 L153.89,318.15 L154.15,314.00 L154.41,309.85 L154.67,305.81 L154.94,301.97 L155.20,298.40 L155.47,301.22 L155.74,304.68 L156.01,308.70 L156.28,313.12 L156.55,317.75 L156.82,322.38 L157.09,326.80 L157.36,330.82 L157.63,334.28 L157.90,337.10 L158.16,332.27 L158.43,327.07 L158.69,321.61 L158.95,316.00 L159.21,310.39 L159.47,304.93 L159.74,299.73 L160.00,294.90 L160.26,299.33 L160.53,304.09 L160.79,309.10 L161.05,314.25 L161.31,319.40 L161.57,324.41 L161.84,329.17 L162.10,333.60 L162.37,331.37 L162.63,328.81 L162.90,325.99 L163.17,322.98 L163.43,319.92 L163.70,316.91 L163.97,314.09 L164.23,311.53 L164.50,309.30 L164.77,310.50 L165.03,311.88 L165.30,313.40 L165.57,315.02 L165.83,316.68 L166.10,318.30 L166.37,319.82 L166.63,321.20 L166.90,322.40 L167.17,320.66 L167.44,318.88 L167.71,317.06 L167.99,315.24 L168.26,313.42 L168.53,311.64 L168.80,309.90 L169.06,311.79 L169.33,313.82 L169.59,315.96 L169.85,318.15 L170.11,320.34 L170.38,322.48 L170.64,324.51 L170.90,326.40 L171.17,319.65 L171.43,312.90 L171.70,306.15 L171.97,299.40 L172.23,292.65 L172.50,285.90 L172.77,294.94 L173.04,304.22 L173.31,313.65 L173.59,323.15 L173.86,332.58 L174.13,341.86 L174.40,350.90 L174.66,344.85 L174.93,338.36 L175.19,331.52 L175.45,324.50 L175.71,317.48 L175.97,310.64 L176.24,304.15 L176.50,298.10 L176.77,300.69 L177.03,303.67 L177.30,306.97 L177.57,310.47 L177.83,314.03 L178.10,317.53 L178.37,320.83 L178.63,323.81 L178.90,326.40 L179.17,324.71 L179.44,322.63 L179.71,320.22 L179.98,317.58 L180.25,314.80 L180.52,312.02 L180.79,309.38 L181.06,306.97 L181.33,304.89 L181.60,303.20 L181.87,307.47 L182.13,311.73 L182.40,316.00 L182.67,320.27 L182.93,324.53 L183.20,328.80 L183.46,326.69 L183.72,324.43 L183.99,322.05 L184.25,319.60 L184.51,317.15 L184.78,314.77 L185.04,312.51 L185.30,310.40 L185.57,311.74 L185.84,313.11 L186.11,314.50 L186.39,315.90 L186.66,317.29 L186.93,318.66 L187.20,320.00 L187.46,319.46 L187.73,318.54 L187.99,317.27 L188.26,315.70 L188.52,313.89 L188.79,311.91 L189.05,309.85 L189.31,307.79 L189.58,305.81 L189.84,304.00 L190.11,302.43 L190.37,301.16 L190.64,300.24 L190.90,299.70 L191.16,304.43 L191.41,309.16 L191.67,313.89 L191.93,318.61 L192.19,323.34 L192.44,328.07 L192.70,332.80 L192.97,326.90 L193.24,320.85 L193.51,314.70 L193.79,308.50 L194.06,302.35 L194.33,296.30 L194.60,290.40 L194.88,297.33 L195.17,304.27 L195.45,311.20 L195.73,318.13 L196.02,325.07 L196.30,332.00 L196.57,329.29 L196.84,326.50 L197.11,323.67 L197.39,320.83 L197.66,318.00 L197.93,315.21 L198.20,312.50 L198.50,316.98 L198.80,321.45 L199.10,325.92 L199.40,330.40 L199.68,325.38 L199.97,320.37 L200.25,315.35 L200.53,310.33 L200.82,305.32 L201.10,300.30 L201.38,305.34 L201.66,310.38 L201.94,315.42 L202.22,320.46 L202.50,325.50 L202.80,321.73 L203.10,317.95 L203.40,314.17 L203.70,310.40 L204.00,314.42 L204.30,318.45 L204.60,322.48 L204.90,326.50 L205.17,323.82 L205.43,321.13 L205.70,318.45 L205.97,315.77 L206.23,313.08 L206.50,310.40 L206.78,312.96 L207.05,315.77 L207.32,318.78 L207.60,321.90 L207.88,325.02 L208.15,328.03 L208.42,330.84 L208.70,333.40 L208.97,328.10 L209.24,322.66 L209.51,317.13 L209.79,311.57 L210.06,306.04 L210.33,300.60 L210.60,295.30 L210.86,298.13 L211.12,301.51 L211.38,305.37 L211.64,309.57 L211.90,313.95 L212.16,318.33 L212.42,322.53 L212.68,326.39 L212.94,329.77 L213.20,332.60 L213.46,331.12 L213.72,329.13 L213.97,326.68 L214.23,323.84 L214.49,320.74 L214.75,317.50 L215.01,314.26 L215.27,311.16 L215.53,308.32 L215.78,305.87 L216.04,303.88 L216.30,302.40 L216.56,308.57 L216.81,314.74 L217.07,320.91 L217.33,327.09 L217.59,333.26 L217.84,339.43 L218.10,345.60 L218.37,339.44 L218.63,332.36 L218.90,324.54 L219.17,316.24 L219.43,307.76 L219.70,299.46 L219.97,291.64 L220.23,284.56 L220.50,278.40 L220.77,289.87 L221.03,301.33 L221.30,312.80 L221.57,324.27 L221.83,335.73 L222.10,347.20 L222.37,341.96 L222.64,336.58 L222.91,331.10 L223.19,325.60 L223.46,320.12 L223.73,314.74 L224.00,309.50 L224.25,311.09 L224.50,312.76 L224.75,314.49 L225.00,316.25 L225.25,318.01 L225.50,319.74 L225.75,321.41 L226.00,323.00 L226.26,321.74 L226.53,320.39 L226.79,318.96 L227.05,317.50 L227.31,316.04 L227.57,314.61 L227.84,313.26 L228.10,312.00 L228.38,313.60 L228.66,315.20 L228.94,316.80 L229.22,318.40 L229.50,320.00 L229.75,319.29 L230.00,318.55 L230.25,317.78 L230.50,317.00 L230.75,316.22 L231.00,315.45 L231.25,314.71 L231.50,314.00 L231.80,317.40 L232.10,320.80 L232.36,317.47 L232.61,314.14 L232.87,310.81 L233.13,307.49 L233.39,304.16 L233.64,300.83 L233.90,297.50 L234.16,307.12 L234.42,316.74 L234.68,326.36 L234.94,335.98 L235.20,345.60 L235.47,340.47 L235.73,334.57 L236.00,328.05 L236.27,321.13 L236.53,314.07 L236.80,307.15 L237.07,300.63 L237.33,294.73 L237.60,289.60 L237.87,296.80 L238.13,304.00 L238.40,311.20 L238.67,318.40 L238.93,325.60 L239.20,332.80 L239.47,329.92 L239.74,326.39 L240.01,322.29 L240.28,317.78 L240.55,313.05 L240.82,308.32 L241.09,303.81 L241.36,299.71 L241.63,296.18 L241.90,293.30 L242.17,299.75 L242.43,306.20 L242.70,312.65 L242.97,319.10 L243.23,325.55 L243.50,332.00 L243.76,330.04 L244.02,327.69 L244.28,325.01 L244.54,322.09 L244.80,319.05 L245.06,316.01 L245.32,313.09 L245.58,310.41 L245.84,308.06 L246.10,306.10 L246.37,308.81 L246.64,311.60 L246.91,314.43 L247.19,317.27 L247.46,320.10 L247.73,322.89 L248.00,325.60 L248.26,323.00 L248.53,320.21 L248.79,317.27 L249.05,314.25 L249.31,311.23 L249.57,308.29 L249.84,305.50 L250.10,302.90 L250.37,305.84 L250.64,308.85 L250.91,311.91 L251.19,314.99 L251.46,318.05 L251.73,321.06 L252.00,324.00 L252.28,321.40 L252.55,318.80 L252.82,316.20 L253.10,313.60 L253.36,314.08 L253.62,314.56 L253.88,315.04 L254.14,315.52 L254.40,316.00 L254.67,313.47 L254.93,310.93 L255.20,308.40 L255.47,305.87 L255.73,303.33 L256.00,300.80 L256.26,308.48 L256.52,316.16 L256.78,323.84 L257.04,331.52 L257.30,339.20 L257.57,334.08 L257.84,328.83 L258.11,323.49 L258.39,318.11 L258.66,312.77 L258.93,307.52 L259.20,302.40 L259.50,303.60 L259.80,304.80 L260.10,306.00" stroke="#0000ff" stroke-width="1.45"/>
</g>
<path d="M43.5,392.9 L43.5,227.8 L259.9,227.8 L259.9,392.9 Z" fill="none" stroke="#2a2a2a" stroke-width="1"/>
<path d="M43.50,389.9 L43.50,395.9" stroke="#2a2a2a" stroke-width="1"/>
<text x="43.50" y="408.80" text-anchor="middle" class="t">500</text>
<path d="M65.14,390.9 L65.14,392.9" stroke="#2a2a2a" stroke-width="0.8"/>
<path d="M86.78,389.9 L86.78,395.9" stroke="#2a2a2a" stroke-width="1"/>
<text x="86.78" y="408.80" text-anchor="middle" class="t">700</text>
<path d="M108.42,390.9 L108.42,392.9" stroke="#2a2a2a" stroke-width="0.8"/>
<path d="M130.06,389.9 L130.06,395.9" stroke="#2a2a2a" stroke-width="1"/>
<text x="130.06" y="408.80" text-anchor="middle" class="t">900</text>
<path d="M151.70,390.9 L151.70,392.9" stroke="#2a2a2a" stroke-width="0.8"/>
<path d="M173.34,389.9 L173.34,395.9" stroke="#2a2a2a" stroke-width="1"/>
<text x="173.34" y="408.80" text-anchor="middle" class="t">1100</text>
<path d="M194.98,390.9 L194.98,392.9" stroke="#2a2a2a" stroke-width="0.8"/>
<path d="M216.62,389.9 L216.62,395.9" stroke="#2a2a2a" stroke-width="1"/>
<text x="216.62" y="408.80" text-anchor="middle" class="t">1300</text>
<path d="M238.26,390.9 L238.26,392.9" stroke="#2a2a2a" stroke-width="0.8"/>
<path d="M259.90,389.9 L259.90,395.9" stroke="#2a2a2a" stroke-width="1"/>
<text x="259.90" y="408.80" text-anchor="middle" class="t">1500</text>
<path d="M40.0,227.80 L46.5,227.80" stroke="#2a2a2a" stroke-width="1"/>
<text x="34.60" y="231.20" text-anchor="end" class="t">18</text>
<path d="M40.0,251.39 L46.5,251.39" stroke="#2a2a2a" stroke-width="1"/>
<text x="34.60" y="254.79" text-anchor="end" class="t">13</text>
<path d="M40.0,274.97 L46.5,274.97" stroke="#2a2a2a" stroke-width="1"/>
<text x="34.60" y="278.37" text-anchor="end" class="t">8</text>
<path d="M40.0,298.56 L46.5,298.56" stroke="#2a2a2a" stroke-width="1"/>
<text x="34.60" y="301.96" text-anchor="end" class="t">3</text>
<path d="M40.0,322.14 L46.5,322.14" stroke="#2a2a2a" stroke-width="1"/>
<text x="34.60" y="325.54" text-anchor="end" class="t">−<tspan dx="0.6">2</tspan></text>
<path d="M40.0,345.73 L46.5,345.73" stroke="#2a2a2a" stroke-width="1"/>
<text x="34.60" y="349.13" text-anchor="end" class="t">−<tspan dx="0.6">7</tspan></text>
<path d="M40.0,369.31 L46.5,369.31" stroke="#2a2a2a" stroke-width="1"/>
<text x="34.60" y="372.71" text-anchor="end" class="t">−<tspan dx="0.6">12</tspan></text>
<path d="M40.0,392.90 L46.5,392.90" stroke="#2a2a2a" stroke-width="1"/>
<text x="34.60" y="396.30" text-anchor="end" class="t">−<tspan dx="0.6">17</tspan></text>
<path d="M43.5,239.59 L45.5,239.59" stroke="#2a2a2a" stroke-width="0.8"/>
<path d="M43.5,263.18 L45.5,263.18" stroke="#2a2a2a" stroke-width="0.8"/>
<path d="M43.5,286.76 L45.5,286.76" stroke="#2a2a2a" stroke-width="0.8"/>
<path d="M43.5,310.35 L45.5,310.35" stroke="#2a2a2a" stroke-width="0.8"/>
<path d="M43.5,333.94 L45.5,333.94" stroke="#2a2a2a" stroke-width="0.8"/>
<path d="M43.5,357.52 L45.5,357.52" stroke="#2a2a2a" stroke-width="0.8"/>
<path d="M43.5,381.11 L45.5,381.11" stroke="#2a2a2a" stroke-width="0.8"/>
<text x="151.70" y="422.90" text-anchor="middle" class="l">Time/s</text>
<text transform="translate(11.5,316.70) rotate(-90)" text-anchor="middle" class="l" style="font-size:10.6px">Pitch/deg</text>
<path d="M133.20,236.30 L147.30,236.30" stroke="#ff0000" stroke-width="1.6"/>
<text x="148.50" y="239.50" class="g">1st-order only</text>
<path d="M133.20,254.00 L147.30,254.00" stroke="#0000ff" stroke-width="1.4"/>
<text x="148.50" y="257.30" class="g">1st-order + 2nd-order</text>
<clipPath id="c4"><rect x="317.8" y="226.5" width="216.7" height="165.0"/></clipPath>
<g clip-path="url(#c4)" fill="none" stroke-linejoin="round" stroke-linecap="round">
<path d="M317.62,338.29 L318.12,338.24 L318.62,339.40 L319.12,341.51 L319.62,344.27 L320.12,347.41 L320.62,350.65 L321.12,353.71 L321.62,356.30 L322.12,358.21 L322.62,359.51 L323.12,360.32 L323.62,360.79 L324.12,361.04 L324.62,361.13 L325.12,361.10 L325.62,360.97 L326.12,360.79 L326.62,360.55 L327.12,360.15 L327.62,359.44 L328.12,358.29 L328.62,356.63 L329.12,354.59 L329.62,352.33 L330.12,350.01 L330.62,347.79 L331.12,345.79 L331.62,343.96 L332.12,342.29 L332.62,340.72 L333.12,339.24 L333.62,337.82 L334.12,336.48 L334.62,335.28 L335.12,334.25 L335.62,333.44 L336.12,332.88 L336.62,332.60 L337.12,332.66 L337.62,333.06 L338.12,333.70 L338.62,334.47 L339.12,335.25 L339.62,335.95 L340.12,336.56 L340.62,337.11 L341.12,337.63 L341.62,338.15 L342.12,338.69 L342.62,339.21 L343.12,339.63 L343.62,339.89 L344.12,339.91 L344.62,339.65 L345.12,339.16 L345.62,338.56 L346.12,337.95 L346.62,337.42 L347.12,337.01 L347.62,336.76 L348.12,336.68 L348.62,336.79 L349.12,337.11 L349.62,337.64 L350.12,338.38 L350.62,339.34 L351.12,340.51 L351.62,341.84 L352.12,343.25 L352.62,344.69 L353.12,346.10 L353.62,347.40 L354.12,348.53 L354.62,349.44 L355.12,350.07 L355.62,350.36 L356.12,350.24 L356.62,349.75 L357.12,348.94 L357.62,347.88 L358.12,346.65 L358.62,345.32 L359.12,343.91 L359.62,342.44 L360.12,340.93 L360.62,339.39 L361.12,337.85 L361.62,336.34 L362.12,334.92 L362.62,333.64 L363.12,332.54 L363.62,331.68 L364.12,331.04 L364.62,330.57 L365.12,330.23 L365.62,329.97 L366.12,329.74 L366.62,329.53 L367.12,329.35 L367.62,329.23 L368.12,329.18 L368.62,329.22 L369.12,329.38 L369.62,329.70 L370.12,330.24 L370.62,331.07 L371.12,332.24 L371.62,333.68 L372.12,335.29 L372.62,336.96 L373.12,338.59 L373.62,340.10 L374.12,341.41 L374.62,342.45 L375.12,343.15 L375.62,343.43 L376.12,343.34 L376.62,343.00 L377.12,342.53 L377.62,342.04 L378.12,341.64 L378.62,341.36 L379.12,341.23 L379.62,341.10 L380.12,340.68 L380.62,339.72 L381.12,338.37 L381.62,337.15 L382.12,336.62 L382.62,337.03 L383.12,338.16 L383.62,339.74 L384.12,341.51 L384.62,343.23 L385.12,344.71 L385.62,345.74 L386.12,346.32 L386.62,346.68 L387.12,347.05 L387.62,347.64 L388.12,348.37 L388.62,348.77 L389.12,348.42 L389.62,347.25 L390.12,345.51 L390.62,343.43 L391.12,341.30 L391.62,339.41 L392.12,338.08 L392.62,337.47 L393.12,337.33 L393.62,337.41 L394.12,337.43 L394.62,337.12 L395.12,336.33 L395.62,335.11 L396.12,333.51 L396.62,331.57 L397.12,329.40 L397.62,327.23 L398.12,325.29 L398.62,323.81 L399.12,322.91 L399.62,322.60 L400.12,322.87 L400.62,323.69 L401.12,325.00 L401.62,326.71 L402.12,328.71 L402.62,330.83 L403.12,332.86 L403.62,334.62 L404.12,336.00 L404.62,337.02 L405.12,337.74 L405.62,338.22 L406.12,338.51 L406.62,338.69 L407.12,338.83 L407.62,339.01 L408.12,339.29 L408.62,339.73 L409.12,340.24 L409.62,340.67 L410.12,340.91 L410.62,340.86 L411.12,340.68 L411.62,340.55 L412.12,340.69 L412.62,341.24 L413.12,342.12 L413.62,343.17 L414.12,344.25 L414.62,345.21 L415.12,346.06 L415.62,346.79 L416.12,347.43 L416.62,347.99 L417.12,348.49 L417.62,348.91 L418.12,349.20 L418.62,349.35 L419.12,349.32 L419.62,349.02 L420.12,348.37 L420.62,347.29 L421.12,345.72 L421.62,343.77 L422.12,341.54 L422.62,339.15 L423.12,336.71 L423.62,334.35 L424.12,332.15 L424.62,330.18 L425.12,328.53 L425.62,327.25 L426.12,326.32 L426.62,325.68 L427.12,325.28 L427.62,325.05 L428.12,324.94 L428.62,324.87 L429.12,324.78 L429.62,324.62 L430.12,324.33 L430.62,323.84 L431.12,323.25 L431.62,322.68 L432.12,322.29 L432.62,322.20 L433.12,322.55 L433.62,323.42 L434.12,324.88 L434.62,326.98 L435.12,329.76 L435.62,333.01 L436.12,336.48 L436.62,339.91 L437.12,343.04 L437.62,345.80 L438.12,348.16 L438.62,350.09 L439.12,351.57 L439.62,352.61 L440.12,353.22 L440.62,353.43 L441.12,353.25 L441.62,352.71 L442.12,351.82 L442.62,350.59 L443.12,349.05 L443.62,347.22 L444.12,345.18 L444.62,343.08 L445.12,341.08 L445.62,339.31 L446.12,337.83 L446.62,336.61 L447.12,335.64 L447.62,334.89 L448.12,334.39 L448.62,334.24 L449.12,334.51 L449.62,335.13 L450.12,336.00 L450.62,337.00 L451.12,338.02 L451.62,338.98 L452.12,339.84 L452.62,340.54 L453.12,341.04 L453.62,341.33 L454.12,341.43 L454.62,341.36 L455.12,341.15 L455.62,340.86 L456.12,340.56 L456.62,340.34 L457.12,340.28 L457.62,340.40 L458.12,340.68 L458.62,341.12 L459.12,341.69 L459.62,342.35 L460.12,342.99 L460.62,343.52 L461.12,343.85 L461.62,343.90 L462.12,343.64 L462.62,343.19 L463.12,342.65 L463.62,342.11 L464.12,341.56 L464.62,340.76 L465.12,339.47 L465.62,337.48 L466.12,334.79 L466.62,331.79 L467.12,328.89 L467.62,326.50 L468.12,324.80 L468.62,323.67 L469.12,322.95 L469.62,322.48 L470.12,322.17 L470.62,322.06 L471.12,322.18 L471.62,322.62 L472.12,323.60 L472.62,325.42 L473.12,328.33 L473.62,332.13 L474.12,336.36 L474.62,340.54 L475.12,344.30 L475.62,347.56 L476.12,350.28 L476.62,352.45 L477.12,354.05 L477.62,355.14 L478.12,355.77 L478.62,355.99 L479.12,355.86 L479.62,355.34 L480.12,354.42 L480.62,353.05 L481.12,351.21 L481.62,348.96 L482.12,346.41 L482.62,343.69 L483.12,340.91 L483.62,338.18 L484.12,335.55 L484.62,333.03 L485.12,330.64 L485.62,328.37 L486.12,326.25 L486.62,324.29 L487.12,322.50 L487.62,320.91 L488.12,319.54 L488.62,318.38 L489.12,317.42 L489.62,316.60 L490.12,315.86 L490.62,315.15 L491.12,314.41 L491.62,313.61 L492.12,312.89 L492.62,312.52 L493.12,312.74 L493.62,313.71 L494.12,315.42 L494.62,317.87 L495.12,320.98 L495.62,324.63 L496.12,328.70 L496.62,333.07 L497.12,337.62 L497.62,342.20 L498.12,346.69 L498.62,350.97 L499.12,354.91 L499.62,358.41 L500.12,361.37 L500.62,363.68 L501.12,365.35 L501.62,366.50 L502.12,367.23 L502.62,367.64 L503.12,367.68 L503.62,367.18 L504.12,365.94 L504.62,363.98 L505.12,361.58 L505.62,359.04 L506.12,356.57 L506.62,354.27 L507.12,352.22 L507.62,350.52 L508.12,349.15 L508.62,347.99 L509.12,346.90 L509.62,345.76 L510.12,344.53 L510.62,343.25 L511.12,341.98 L511.62,340.76 L512.12,339.65 L512.62,338.73 L513.12,338.09 L513.62,337.81 L514.12,337.86 L514.62,338.06 L515.12,338.25 L515.62,338.26 L516.12,338.03 L516.62,337.60 L517.12,337.05 L517.62,336.43 L518.12,335.75 L518.62,334.96 L519.12,333.99 L519.62,332.78 L520.12,331.33 L520.62,329.76 L521.12,328.19 L521.62,326.72 L522.12,325.45 L522.62,324.44 L523.12,323.74 L523.62,323.41 L524.12,323.49 L524.62,324.05 L525.12,325.11 L525.62,326.60 L526.12,328.48 L526.62,330.67 L527.12,332.98 L527.62,335.23 L528.12,337.25 L528.62,338.96 L529.12,340.42 L529.62,341.69 L530.12,342.81 L530.62,343.74 L531.12,344.28 L531.62,344.26 L532.12,343.62 L532.62,342.55 L533.12,341.26 L533.62,339.96 L534.12,338.86" stroke="#ff0000" stroke-width="1.7"/>
<path d="M317.62,329.24 L318.12,328.66 L318.62,328.88 L319.12,329.77 L319.62,331.23 L320.12,333.12 L320.62,335.33 L321.12,337.74 L321.62,340.24 L322.12,342.70 L322.62,345.01 L323.12,347.11 L323.62,348.93 L324.12,350.40 L324.62,351.45 L325.12,352.01 L325.62,352.04 L326.12,351.56 L326.62,350.60 L327.12,349.19 L327.62,347.38 L328.12,345.28 L328.62,343.02 L329.12,340.73 L329.62,338.54 L330.12,336.56 L330.62,334.85 L331.12,333.44 L331.62,332.39 L332.12,331.72 L332.62,331.36 L333.12,331.23 L333.62,331.22 L334.12,331.26 L334.62,331.25 L335.12,331.13 L335.62,330.87 L336.12,330.40 L336.62,329.68 L337.12,328.70 L337.62,327.51 L338.12,326.16 L338.62,324.73 L339.12,323.27 L339.62,321.83 L340.12,320.40 L340.62,318.96 L341.12,317.47 L341.62,315.92 L342.12,314.26 L342.62,312.52 L343.12,310.86 L343.62,309.49 L344.12,308.66 L344.62,308.56 L345.12,309.38 L345.62,311.14 L346.12,313.84 L346.62,317.44 L347.12,321.77 L347.62,326.58 L348.12,331.65 L348.62,336.73 L349.12,341.60 L349.62,346.04 L350.12,349.83 L350.62,352.77 L351.12,354.79 L351.62,355.85 L352.12,355.93 L352.62,355.03 L353.12,353.15 L353.62,350.29 L354.12,346.56 L354.62,342.33 L355.12,338.08 L355.62,334.27 L356.12,331.26 L356.62,329.01 L357.12,327.38 L357.62,326.22 L358.12,325.39 L358.62,324.75 L359.12,324.24 L359.62,323.81 L360.12,323.44 L360.62,323.09 L361.12,322.72 L361.62,322.31 L362.12,321.86 L362.62,321.43 L363.12,321.05 L363.62,320.76 L364.12,320.61 L364.62,320.63 L365.12,320.68 L365.62,320.57 L366.12,320.07 L366.62,318.98 L367.12,317.34 L367.62,315.28 L368.12,312.97 L368.62,310.55 L369.12,308.14 L369.62,305.84 L370.12,303.77 L370.62,302.02 L371.12,300.65 L371.62,299.69 L372.12,299.16 L372.62,299.09 L373.12,299.42 L373.62,300.02 L374.12,300.76 L374.62,301.54 L375.12,302.37 L375.62,303.40 L376.12,304.76 L376.62,306.59 L377.12,309.00 L377.62,311.72 L378.12,314.29 L378.62,316.27 L379.12,317.22 L379.62,316.70 L380.12,314.83 L380.62,312.19 L381.12,309.37 L381.62,306.96 L382.12,305.16 L382.62,303.86 L383.12,302.90 L383.62,302.14 L384.12,301.60 L384.62,301.47 L385.12,301.94 L385.62,303.18 L386.12,305.18 L386.62,307.71 L387.12,310.53 L387.62,313.41 L388.12,316.13 L388.62,318.57 L389.12,320.57 L389.62,321.99 L390.12,322.70 L390.62,322.61 L391.12,321.81 L391.62,320.42 L392.12,318.52 L392.62,316.22 L393.12,313.63 L393.62,310.83 L394.12,307.93 L394.62,305.02 L395.12,302.18 L395.62,299.50 L396.12,297.05 L396.62,294.91 L397.12,293.16 L397.62,291.98 L398.12,291.64 L398.62,292.43 L399.12,294.46 L399.62,297.59 L400.12,301.68 L400.62,306.57 L401.12,312.10 L401.62,318.12 L402.12,324.48 L402.62,330.99 L403.12,337.36 L403.62,343.28 L404.12,348.44 L404.62,352.57 L405.12,355.58 L405.62,357.40 L406.12,358.00 L406.62,357.34 L407.12,355.47 L407.62,352.48 L408.12,348.44 L408.62,343.48 L409.12,337.93 L409.62,332.16 L410.12,326.54 L410.62,321.45 L411.12,317.19 L411.62,313.86 L412.12,311.53 L412.62,310.29 L413.12,310.18 L413.62,311.22 L414.12,313.35 L414.62,316.53 L415.12,320.64 L415.62,325.30 L416.12,330.09 L416.62,334.61 L417.12,338.53 L417.62,341.79 L418.12,344.43 L418.62,346.44 L419.12,347.85 L419.62,348.63 L420.12,348.79 L420.62,348.29 L421.12,347.15 L421.62,345.33 L422.12,342.83 L422.62,339.67 L423.12,336.08 L423.62,332.38 L424.12,328.89 L424.62,325.89 L425.12,323.41 L425.62,321.36 L426.12,319.66 L426.62,318.21 L427.12,316.93 L427.62,315.81 L428.12,314.83 L428.62,314.00 L429.12,313.31 L429.62,312.75 L430.12,312.34 L430.62,312.11 L431.12,312.11 L431.62,312.36 L432.12,312.94 L432.62,313.97 L433.12,315.57 L433.62,317.81 L434.12,320.62 L434.62,323.80 L435.12,327.16 L435.62,330.50 L436.12,333.72 L436.62,336.75 L437.12,339.53 L437.62,341.99 L438.12,344.09 L438.62,345.79 L439.12,347.07 L439.62,347.92 L440.12,348.32 L440.62,348.25 L441.12,347.68 L441.62,346.61 L442.12,344.99 L442.62,342.81 L443.12,340.07 L443.62,336.92 L444.12,333.56 L444.62,330.21 L445.12,327.09 L445.62,324.37 L446.12,322.14 L446.62,320.50 L447.12,319.52 L447.62,319.12 L448.12,319.11 L448.62,319.33 L449.12,319.74 L449.62,320.44 L450.12,321.52 L450.62,323.08 L451.12,325.05 L451.62,327.19 L452.12,329.29 L452.62,331.12 L453.12,332.60 L453.62,333.80 L454.12,334.81 L454.62,335.69 L455.12,336.49 L455.62,337.16 L456.12,337.68 L456.62,338.03 L457.12,338.19 L457.62,338.18 L458.12,338.03 L458.62,337.75 L459.12,337.39 L459.62,337.04 L460.12,336.77 L460.62,336.66 L461.12,336.65 L461.62,336.49 L462.12,335.92 L462.62,334.70 L463.12,332.86 L463.62,330.83 L464.12,329.04 L464.62,327.92 L465.12,327.52 L465.62,327.36 L466.12,326.92 L466.62,325.69 L467.12,323.52 L467.62,320.79 L468.12,317.95 L468.62,315.42 L469.12,313.48 L469.62,312.09 L470.12,311.21 L470.62,310.79 L471.12,310.78 L471.62,311.27 L472.12,312.41 L472.62,314.35 L473.12,317.15 L473.62,320.61 L474.12,324.47 L474.62,328.48 L475.12,332.40 L475.62,336.10 L476.12,339.47 L476.62,342.40 L477.12,344.77 L477.62,346.57 L478.12,347.81 L478.62,348.53 L479.12,348.76 L479.62,348.52 L480.12,347.79 L480.62,346.55 L481.12,344.76 L481.62,342.40 L482.12,339.57 L482.62,336.40 L483.12,333.02 L483.62,329.56 L484.12,326.15 L484.62,322.88 L485.12,319.86 L485.62,317.21 L486.12,314.99 L486.62,313.29 L487.12,312.19 L487.62,311.75 L488.12,312.02 L488.62,312.80 L489.12,313.84 L489.62,314.88 L490.12,315.66 L490.62,315.92 L491.12,315.40 L491.62,314.12 L492.12,312.35 L492.62,310.38 L493.12,308.47 L493.62,306.80 L494.12,305.46 L494.62,304.59 L495.12,304.23 L495.62,304.43 L496.12,305.15 L496.62,306.12 L497.12,306.93 L497.62,307.23 L498.12,307.23 L498.62,307.53 L499.12,308.77 L499.62,311.19 L500.12,314.55 L500.62,318.57 L501.12,323.01 L501.62,327.66 L502.12,332.29 L502.62,336.69 L503.12,340.71 L503.62,344.24 L504.12,347.20 L504.62,349.51 L505.12,351.16 L505.62,352.23 L506.12,352.83 L506.62,353.03 L507.12,352.84 L507.62,352.23 L508.12,351.12 L508.62,349.46 L509.12,347.19 L509.62,344.24 L510.12,340.54 L510.62,336.02 L511.12,330.91 L511.62,325.74 L512.12,321.07 L512.62,317.27 L513.12,314.37 L513.62,312.41 L514.12,311.28 L514.62,310.80 L515.12,310.76 L515.62,311.06 L516.12,311.87 L516.62,313.37 L517.12,315.72 L517.62,318.79 L518.12,322.18 L518.62,325.53 L519.12,328.58 L519.62,331.20 L520.12,333.29 L520.62,334.74 L521.12,335.57 L521.62,335.91 L522.12,335.95 L522.62,335.83 L523.12,335.75 L523.62,335.87 L524.12,336.38 L524.62,337.36 L525.12,338.54 L525.62,339.61 L526.12,340.38 L526.62,340.81 L527.12,340.90 L527.62,340.67 L528.12,340.21 L528.62,339.62 L529.12,339.01 L529.62,338.35 L530.12,337.47 L530.62,336.19 L531.12,334.36 L531.62,331.89 L532.12,328.87 L532.62,325.34 L533.12,321.53 L533.62,317.94 L534.12,315.10" stroke="#0000ff" stroke-width="1.7"/>
</g>
<path d="M317.8,391.5 L317.8,226.5 L534.5,226.5 L534.5,391.5 Z" fill="none" stroke="#2a2a2a" stroke-width="1"/>
<path d="M317.80,388.5 L317.80,394.5" stroke="#2a2a2a" stroke-width="1"/>
<text x="317.80" y="407.40" text-anchor="middle" class="t">500</text>
<path d="M339.47,389.5 L339.47,391.5" stroke="#2a2a2a" stroke-width="0.8"/>
<path d="M361.14,388.5 L361.14,394.5" stroke="#2a2a2a" stroke-width="1"/>
<text x="361.14" y="407.40" text-anchor="middle" class="t">700</text>
<path d="M382.81,389.5 L382.81,391.5" stroke="#2a2a2a" stroke-width="0.8"/>
<path d="M404.48,388.5 L404.48,394.5" stroke="#2a2a2a" stroke-width="1"/>
<text x="404.48" y="407.40" text-anchor="middle" class="t">900</text>
<path d="M426.15,389.5 L426.15,391.5" stroke="#2a2a2a" stroke-width="0.8"/>
<path d="M447.82,388.5 L447.82,394.5" stroke="#2a2a2a" stroke-width="1"/>
<text x="447.82" y="407.40" text-anchor="middle" class="t">1100</text>
<path d="M469.49,389.5 L469.49,391.5" stroke="#2a2a2a" stroke-width="0.8"/>
<path d="M491.16,388.5 L491.16,394.5" stroke="#2a2a2a" stroke-width="1"/>
<text x="491.16" y="407.40" text-anchor="middle" class="t">1300</text>
<path d="M512.83,389.5 L512.83,391.5" stroke="#2a2a2a" stroke-width="0.8"/>
<path d="M534.50,388.5 L534.50,394.5" stroke="#2a2a2a" stroke-width="1"/>
<text x="534.50" y="407.40" text-anchor="middle" class="t">1500</text>
<path d="M314.3,226.50 L320.8,226.50" stroke="#2a2a2a" stroke-width="1"/>
<text x="308.20" y="229.90" text-anchor="end" class="t">2</text>
<path d="M314.3,281.50 L320.8,281.50" stroke="#2a2a2a" stroke-width="1"/>
<text x="308.20" y="284.90" text-anchor="end" class="t">1</text>
<path d="M314.3,336.50 L320.8,336.50" stroke="#2a2a2a" stroke-width="1"/>
<text x="308.20" y="339.90" text-anchor="end" class="t">0</text>
<path d="M314.3,391.50 L320.8,391.50" stroke="#2a2a2a" stroke-width="1"/>
<text x="308.20" y="394.90" text-anchor="end" class="t">−<tspan dx="0.6">1</tspan></text>
<path d="M317.8,254.00 L319.8,254.00" stroke="#2a2a2a" stroke-width="0.8"/>
<path d="M317.8,309.00 L319.8,309.00" stroke="#2a2a2a" stroke-width="0.8"/>
<path d="M317.8,364.00 L319.8,364.00" stroke="#2a2a2a" stroke-width="0.8"/>
<text x="426.15" y="421.50" text-anchor="middle" class="l">Time/s</text>
<text transform="translate(285.5,315.30) rotate(-90)" text-anchor="middle" class="l" style="font-size:10.6px">Yaw/deg</text>
<path d="M407.50,236.20 L421.60,236.20" stroke="#ff0000" stroke-width="1.6"/>
<text x="422.80" y="239.40" class="g">1st-order only</text>
<path d="M407.50,253.90 L421.60,253.90" stroke="#0000ff" stroke-width="1.4"/>
<text x="422.80" y="257.20" class="g">1st-order + 2nd-order</text>
</svg>
</body></html>
